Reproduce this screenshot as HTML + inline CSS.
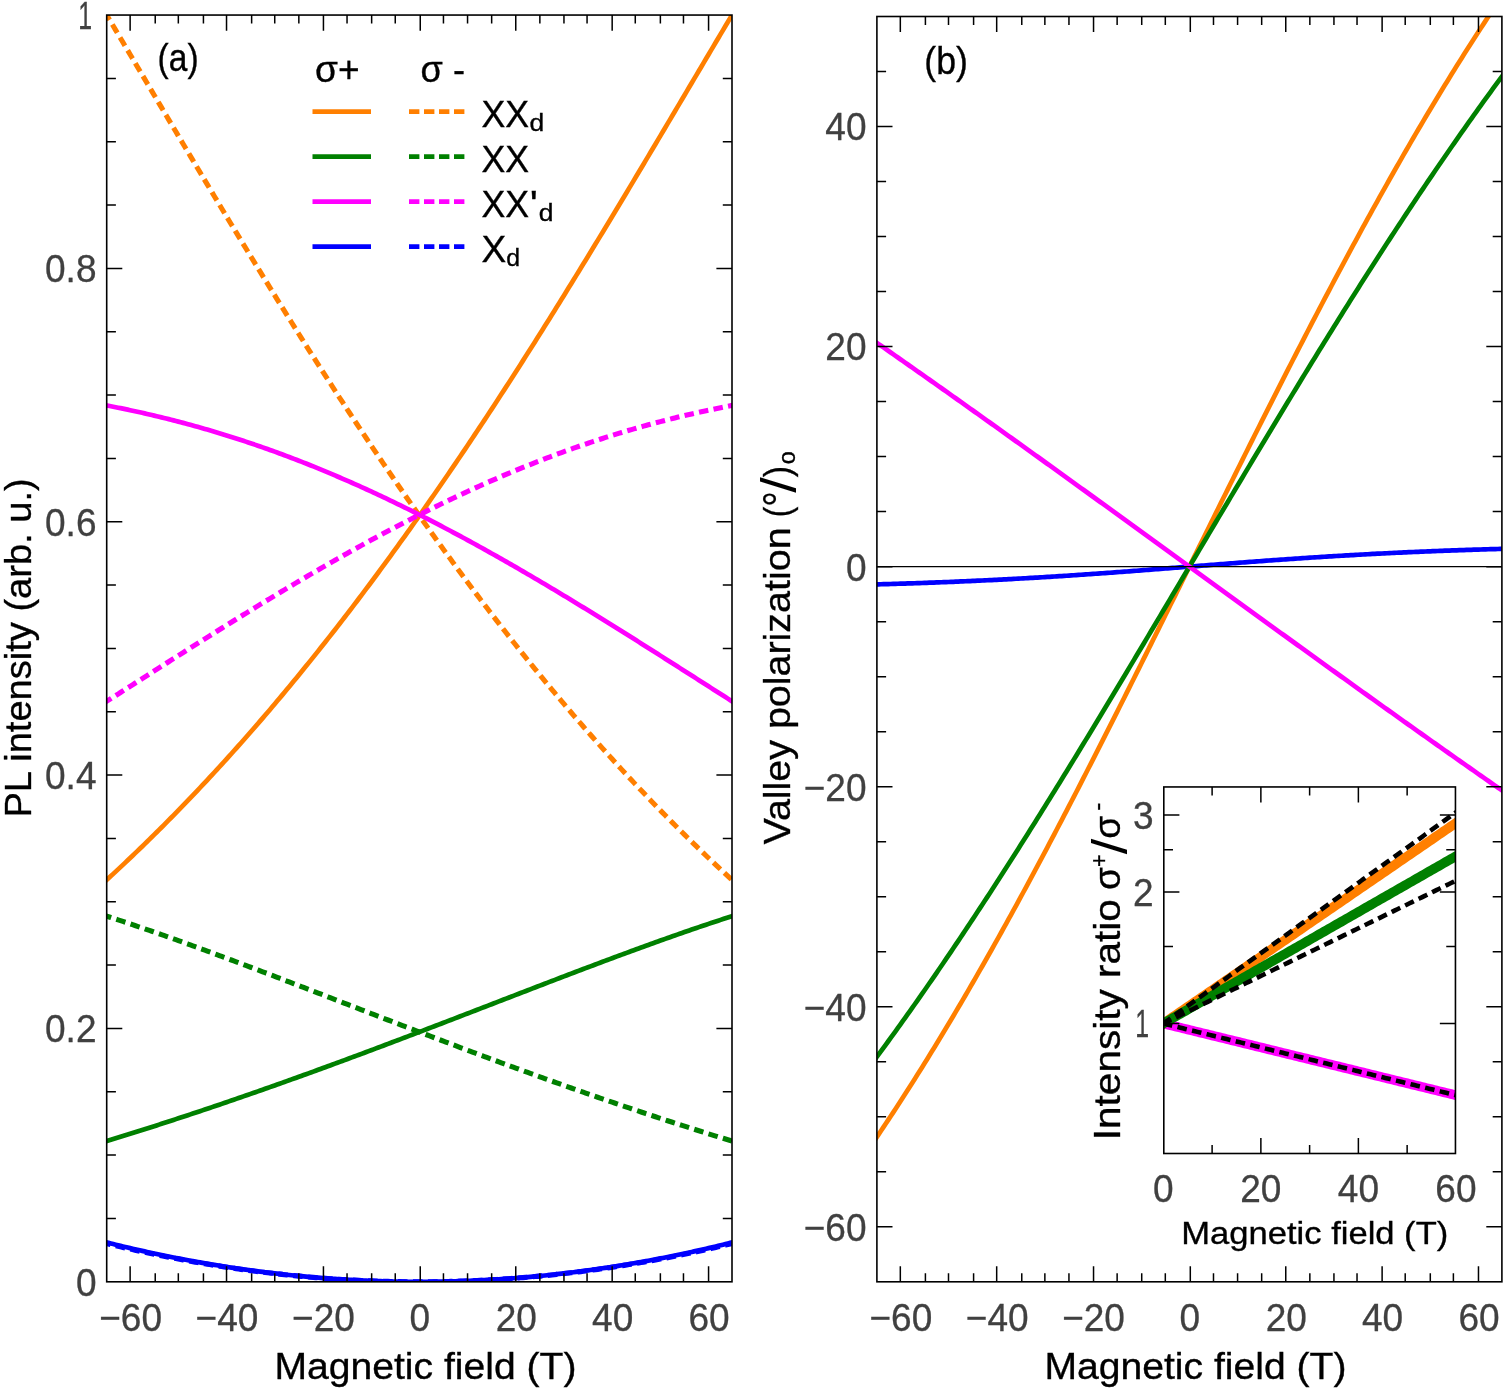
<!DOCTYPE html>
<html lang="en"><head><meta charset="utf-8"><title>PL intensity and valley polarization vs magnetic field</title>
<style>html,body{margin:0;padding:0;background:#fff;overflow:hidden}svg{display:block}</style></head>
<body>
<svg width="1505" height="1388" viewBox="0 0 1505 1388" font-family='"Liberation Sans", sans-serif'>
<rect width="1505" height="1388" fill="#fff"/>
<defs>
<clipPath id="ca"><rect x="106.7" y="15.05" width="625.3" height="1266.75"/></clipPath>
<clipPath id="cb"><rect x="876.9" y="16.5" width="625" height="1265.3"/></clipPath>
<clipPath id="ci"><rect x="1163.8" y="786.95" width="291.65" height="366.55"/></clipPath>
</defs>
<g id="panel-a">
<polyline points="101.2,884.9 103.61,882.71 106.03,880.51 108.44,878.3 110.85,876.08 113.26,873.86 115.67,871.62 118.08,869.38 120.49,867.12 122.9,864.86 125.31,862.59 127.72,860.31 130.13,858.02 132.54,855.73 134.95,853.42 137.36,851.11 139.77,848.78 142.18,846.45 144.59,844.11 147,841.76 149.41,839.4 151.82,837.03 154.23,834.65 156.64,832.27 159.05,829.87 161.46,827.47 163.87,825.06 166.28,822.63 168.69,820.2 171.1,817.76 173.51,815.31 175.92,812.85 178.33,810.38 180.74,807.91 183.15,805.42 185.56,802.92 187.97,800.42 190.38,797.9 192.79,795.38 195.2,792.85 197.61,790.3 200.02,787.75 202.43,785.19 204.84,782.62 207.25,780.04 209.66,777.45 212.07,774.85 214.48,772.25 216.89,769.63 219.3,767 221.71,764.37 224.12,761.72 226.53,759.07 228.94,756.4 231.36,753.73 233.77,751.04 236.18,748.35 238.59,745.65 241,742.94 243.41,740.22 245.82,737.49 248.23,734.75 250.64,732 253.05,729.24 255.46,726.47 257.87,723.69 260.28,720.9 262.69,718.1 265.1,715.29 267.51,712.48 269.92,709.65 272.33,706.81 274.74,703.97 277.15,701.11 279.56,698.25 281.97,695.37 284.38,692.49 286.79,689.59 289.2,686.69 291.61,683.78 294.02,680.85 296.43,677.92 298.84,674.98 301.25,672.03 303.66,669.07 306.07,666.1 308.48,663.11 310.89,660.12 313.3,657.12 315.71,654.11 318.12,651.1 320.53,648.07 322.94,645.03 325.35,641.98 327.76,638.92 330.17,635.85 332.58,632.78 334.99,629.69 337.4,626.59 339.81,623.49 342.22,620.37 344.63,617.25 347.04,614.11 349.45,610.97 351.86,607.81 354.27,604.65 356.69,601.48 359.1,598.29 361.51,595.1 363.92,591.9 366.33,588.69 368.74,585.47 371.15,582.24 373.56,579 375.97,575.75 378.38,572.49 380.79,569.22 383.2,565.95 385.61,562.66 388.02,559.36 390.43,556.06 392.84,552.74 395.25,549.42 397.66,546.09 400.07,542.74 402.48,539.39 404.89,536.03 407.3,532.66 409.71,529.28 412.12,525.89 414.53,522.49 416.94,519.09 419.35,515.67 421.76,512.24 424.17,508.81 426.58,505.37 428.99,501.91 431.4,498.45 433.81,494.98 436.22,491.5 438.63,488.02 441.04,484.52 443.45,481.01 445.86,477.5 448.27,473.97 450.68,470.44 453.09,466.9 455.5,463.35 457.91,459.79 460.32,456.23 462.73,452.65 465.14,449.07 467.55,445.48 469.96,441.88 472.37,438.27 474.78,434.65 477.19,431.02 479.6,427.39 482.01,423.75 484.43,420.1 486.84,416.44 489.25,412.77 491.66,409.1 494.07,405.42 496.48,401.73 498.89,398.03 501.3,394.32 503.71,390.61 506.12,386.89 508.53,383.16 510.94,379.42 513.35,375.68 515.76,371.92 518.17,368.16 520.58,364.4 522.99,360.62 525.4,356.84 527.81,353.05 530.22,349.26 532.63,345.46 535.04,341.65 537.45,337.83 539.86,334.01 542.27,330.18 544.68,326.34 547.09,322.49 549.5,318.64 551.91,314.79 554.32,310.92 556.73,307.05 559.14,303.18 561.55,299.3 563.96,295.41 566.37,291.51 568.78,287.61 571.19,283.71 573.6,279.79 576.01,275.87 578.42,271.95 580.83,268.02 583.24,264.09 585.65,260.15 588.06,256.2 590.47,252.25 592.88,248.29 595.29,244.33 597.7,240.37 600.11,236.4 602.52,232.42 604.93,228.44 607.34,224.46 609.76,220.47 612.17,216.47 614.58,212.48 616.99,208.47 619.4,204.47 621.81,200.46 624.22,196.44 626.63,192.43 629.04,188.4 631.45,184.38 633.86,180.35 636.27,176.32 638.68,172.29 641.09,168.25 643.5,164.21 645.91,160.16 648.32,156.12 650.73,152.07 653.14,148.02 655.55,143.96 657.96,139.91 660.37,135.85 662.78,131.79 665.19,127.73 667.6,123.67 670.01,119.6 672.42,115.54 674.83,111.47 677.24,107.4 679.65,103.33 682.06,99.26 684.47,95.19 686.88,91.12 689.29,87.05 691.7,82.98 694.11,78.91 696.52,74.83 698.93,70.76 701.34,66.69 703.75,62.62 706.16,58.55 708.57,54.48 710.98,50.41 713.39,46.35 715.8,42.28 718.21,38.22 720.62,34.15 723.03,30.09 725.44,26.04 727.85,21.98 730.26,17.93 732.67,13.87 735.09,9.83 737.5,5.78" fill="none" stroke="#ff7f00" stroke-width="4.7" clip-path="url(#ca)"/>
<polyline points="101.2,5.78 103.61,9.83 106.03,13.87 108.44,17.93 110.85,21.98 113.26,26.04 115.67,30.09 118.08,34.15 120.49,38.22 122.9,42.28 125.31,46.35 127.72,50.41 130.13,54.48 132.54,58.55 134.95,62.62 137.36,66.69 139.77,70.76 142.18,74.83 144.59,78.91 147,82.98 149.41,87.05 151.82,91.12 154.23,95.19 156.64,99.26 159.05,103.33 161.46,107.4 163.87,111.47 166.28,115.54 168.69,119.6 171.1,123.67 173.51,127.73 175.92,131.79 178.33,135.85 180.74,139.91 183.15,143.96 185.56,148.02 187.97,152.07 190.38,156.12 192.79,160.16 195.2,164.21 197.61,168.25 200.02,172.29 202.43,176.32 204.84,180.35 207.25,184.38 209.66,188.4 212.07,192.43 214.48,196.44 216.89,200.46 219.3,204.47 221.71,208.47 224.12,212.48 226.53,216.47 228.94,220.47 231.36,224.46 233.77,228.44 236.18,232.42 238.59,236.4 241,240.37 243.41,244.33 245.82,248.29 248.23,252.25 250.64,256.2 253.05,260.15 255.46,264.09 257.87,268.02 260.28,271.95 262.69,275.87 265.1,279.79 267.51,283.71 269.92,287.61 272.33,291.51 274.74,295.41 277.15,299.3 279.56,303.18 281.97,307.05 284.38,310.92 286.79,314.79 289.2,318.64 291.61,322.49 294.02,326.34 296.43,330.18 298.84,334.01 301.25,337.83 303.66,341.65 306.07,345.46 308.48,349.26 310.89,353.05 313.3,356.84 315.71,360.62 318.12,364.4 320.53,368.16 322.94,371.92 325.35,375.68 327.76,379.42 330.17,383.16 332.58,386.89 334.99,390.61 337.4,394.32 339.81,398.03 342.22,401.73 344.63,405.42 347.04,409.1 349.45,412.77 351.86,416.44 354.27,420.1 356.69,423.75 359.1,427.39 361.51,431.02 363.92,434.65 366.33,438.27 368.74,441.88 371.15,445.48 373.56,449.07 375.97,452.65 378.38,456.23 380.79,459.79 383.2,463.35 385.61,466.9 388.02,470.44 390.43,473.97 392.84,477.5 395.25,481.01 397.66,484.52 400.07,488.02 402.48,491.5 404.89,494.98 407.3,498.45 409.71,501.91 412.12,505.37 414.53,508.81 416.94,512.24 419.35,515.67 421.76,519.09 424.17,522.49 426.58,525.89 428.99,529.28 431.4,532.66 433.81,536.03 436.22,539.39 438.63,542.74 441.04,546.09 443.45,549.42 445.86,552.74 448.27,556.06 450.68,559.36 453.09,562.66 455.5,565.95 457.91,569.22 460.32,572.49 462.73,575.75 465.14,579 467.55,582.24 469.96,585.47 472.37,588.69 474.78,591.9 477.19,595.1 479.6,598.29 482.01,601.48 484.43,604.65 486.84,607.81 489.25,610.97 491.66,614.11 494.07,617.25 496.48,620.37 498.89,623.49 501.3,626.59 503.71,629.69 506.12,632.78 508.53,635.85 510.94,638.92 513.35,641.98 515.76,645.03 518.17,648.07 520.58,651.1 522.99,654.11 525.4,657.12 527.81,660.12 530.22,663.11 532.63,666.1 535.04,669.07 537.45,672.03 539.86,674.98 542.27,677.92 544.68,680.85 547.09,683.78 549.5,686.69 551.91,689.59 554.32,692.49 556.73,695.37 559.14,698.25 561.55,701.11 563.96,703.97 566.37,706.81 568.78,709.65 571.19,712.48 573.6,715.29 576.01,718.1 578.42,720.9 580.83,723.69 583.24,726.47 585.65,729.24 588.06,732 590.47,734.75 592.88,737.49 595.29,740.22 597.7,742.94 600.11,745.65 602.52,748.35 604.93,751.04 607.34,753.73 609.76,756.4 612.17,759.07 614.58,761.72 616.99,764.37 619.4,767 621.81,769.63 624.22,772.25 626.63,774.85 629.04,777.45 631.45,780.04 633.86,782.62 636.27,785.19 638.68,787.75 641.09,790.3 643.5,792.85 645.91,795.38 648.32,797.9 650.73,800.42 653.14,802.92 655.55,805.42 657.96,807.91 660.37,810.38 662.78,812.85 665.19,815.31 667.6,817.76 670.01,820.2 672.42,822.63 674.83,825.06 677.24,827.47 679.65,829.87 682.06,832.27 684.47,834.65 686.88,837.03 689.29,839.4 691.7,841.76 694.11,844.11 696.52,846.45 698.93,848.78 701.34,851.11 703.75,853.42 706.16,855.73 708.57,858.02 710.98,860.31 713.39,862.59 715.8,864.86 718.21,867.12 720.62,869.38 723.03,871.62 725.44,873.86 727.85,876.08 730.26,878.3 732.67,880.51 735.09,882.71 737.5,884.9" fill="none" stroke="#ff7f00" stroke-width="5.1" stroke-dasharray="9.6 5.4" stroke-dashoffset="8.18" clip-path="url(#ca)"/>
<polyline points="101.2,1142.74 103.61,1142 106.03,1141.27 108.44,1140.53 110.85,1139.79 113.26,1139.05 115.67,1138.3 118.08,1137.56 120.49,1136.81 122.9,1136.06 125.31,1135.31 127.72,1134.56 130.13,1133.81 132.54,1133.05 134.95,1132.29 137.36,1131.53 139.77,1130.77 142.18,1130.01 144.59,1129.24 147,1128.48 149.41,1127.71 151.82,1126.94 154.23,1126.17 156.64,1125.39 159.05,1124.62 161.46,1123.84 163.87,1123.06 166.28,1122.28 168.69,1121.5 171.1,1120.71 173.51,1119.93 175.92,1119.14 178.33,1118.35 180.74,1117.56 183.15,1116.76 185.56,1115.97 187.97,1115.17 190.38,1114.38 192.79,1113.58 195.2,1112.77 197.61,1111.97 200.02,1111.17 202.43,1110.36 204.84,1109.55 207.25,1108.74 209.66,1107.93 212.07,1107.12 214.48,1106.3 216.89,1105.49 219.3,1104.67 221.71,1103.85 224.12,1103.03 226.53,1102.21 228.94,1101.38 231.36,1100.56 233.77,1099.73 236.18,1098.9 238.59,1098.07 241,1097.24 243.41,1096.4 245.82,1095.57 248.23,1094.73 250.64,1093.89 253.05,1093.05 255.46,1092.21 257.87,1091.37 260.28,1090.52 262.69,1089.68 265.1,1088.83 267.51,1087.98 269.92,1087.13 272.33,1086.28 274.74,1085.43 277.15,1084.57 279.56,1083.72 281.97,1082.86 284.38,1082 286.79,1081.14 289.2,1080.28 291.61,1079.41 294.02,1078.55 296.43,1077.68 298.84,1076.82 301.25,1075.95 303.66,1075.08 306.07,1074.21 308.48,1073.34 310.89,1072.46 313.3,1071.59 315.71,1070.71 318.12,1069.83 320.53,1068.95 322.94,1068.07 325.35,1067.19 327.76,1066.31 330.17,1065.43 332.58,1064.54 334.99,1063.65 337.4,1062.77 339.81,1061.88 342.22,1060.99 344.63,1060.1 347.04,1059.21 349.45,1058.31 351.86,1057.42 354.27,1056.52 356.69,1055.63 359.1,1054.73 361.51,1053.83 363.92,1052.93 366.33,1052.03 368.74,1051.13 371.15,1050.23 373.56,1049.33 375.97,1048.42 378.38,1047.52 380.79,1046.61 383.2,1045.7 385.61,1044.79 388.02,1043.89 390.43,1042.98 392.84,1042.07 395.25,1041.15 397.66,1040.24 400.07,1039.33 402.48,1038.41 404.89,1037.5 407.3,1036.58 409.71,1035.67 412.12,1034.75 414.53,1033.83 416.94,1032.92 419.35,1032 421.76,1031.08 424.17,1030.16 426.58,1029.24 428.99,1028.31 431.4,1027.39 433.81,1026.47 436.22,1025.55 438.63,1024.62 441.04,1023.7 443.45,1022.77 445.86,1021.85 448.27,1020.92 450.68,1020 453.09,1019.07 455.5,1018.14 457.91,1017.22 460.32,1016.29 462.73,1015.36 465.14,1014.43 467.55,1013.51 469.96,1012.58 472.37,1011.65 474.78,1010.72 477.19,1009.79 479.6,1008.86 482.01,1007.93 484.43,1007 486.84,1006.07 489.25,1005.14 491.66,1004.21 494.07,1003.28 496.48,1002.35 498.89,1001.42 501.3,1000.49 503.71,999.56 506.12,998.63 508.53,997.7 510.94,996.77 513.35,995.84 515.76,994.91 518.17,993.98 520.58,993.05 522.99,992.12 525.4,991.2 527.81,990.27 530.22,989.34 532.63,988.41 535.04,987.48 537.45,986.56 539.86,985.63 542.27,984.71 544.68,983.78 547.09,982.86 549.5,981.93 551.91,981.01 554.32,980.09 556.73,979.16 559.14,978.24 561.55,977.32 563.96,976.4 566.37,975.48 568.78,974.56 571.19,973.65 573.6,972.73 576.01,971.81 578.42,970.9 580.83,969.98 583.24,969.07 585.65,968.16 588.06,967.25 590.47,966.34 592.88,965.43 595.29,964.52 597.7,963.62 600.11,962.71 602.52,961.81 604.93,960.9 607.34,960 609.76,959.1 612.17,958.2 614.58,957.31 616.99,956.41 619.4,955.52 621.81,954.62 624.22,953.73 626.63,952.84 629.04,951.96 631.45,951.07 633.86,950.19 636.27,949.3 638.68,948.42 641.09,947.54 643.5,946.67 645.91,945.79 648.32,944.92 650.73,944.05 653.14,943.18 655.55,942.31 657.96,941.45 660.37,940.58 662.78,939.72 665.19,938.87 667.6,938.01 670.01,937.16 672.42,936.31 674.83,935.46 677.24,934.61 679.65,933.77 682.06,932.93 684.47,932.09 686.88,931.25 689.29,930.42 691.7,929.59 694.11,928.76 696.52,927.94 698.93,927.12 701.34,926.3 703.75,925.48 706.16,924.67 708.57,923.86 710.98,923.05 713.39,922.25 715.8,921.45 718.21,920.65 720.62,919.86 723.03,919.07 725.44,918.28 727.85,917.5 730.26,916.72 732.67,915.94 735.09,915.17 737.5,914.4" fill="none" stroke="#008000" stroke-width="4.7" clip-path="url(#ca)"/>
<polyline points="101.2,914.4 103.61,915.17 106.03,915.94 108.44,916.72 110.85,917.5 113.26,918.28 115.67,919.07 118.08,919.86 120.49,920.65 122.9,921.45 125.31,922.25 127.72,923.05 130.13,923.86 132.54,924.67 134.95,925.48 137.36,926.3 139.77,927.12 142.18,927.94 144.59,928.76 147,929.59 149.41,930.42 151.82,931.25 154.23,932.09 156.64,932.93 159.05,933.77 161.46,934.61 163.87,935.46 166.28,936.31 168.69,937.16 171.1,938.01 173.51,938.87 175.92,939.72 178.33,940.58 180.74,941.45 183.15,942.31 185.56,943.18 187.97,944.05 190.38,944.92 192.79,945.79 195.2,946.67 197.61,947.54 200.02,948.42 202.43,949.3 204.84,950.19 207.25,951.07 209.66,951.96 212.07,952.84 214.48,953.73 216.89,954.62 219.3,955.52 221.71,956.41 224.12,957.31 226.53,958.2 228.94,959.1 231.36,960 233.77,960.9 236.18,961.81 238.59,962.71 241,963.62 243.41,964.52 245.82,965.43 248.23,966.34 250.64,967.25 253.05,968.16 255.46,969.07 257.87,969.98 260.28,970.9 262.69,971.81 265.1,972.73 267.51,973.65 269.92,974.56 272.33,975.48 274.74,976.4 277.15,977.32 279.56,978.24 281.97,979.16 284.38,980.09 286.79,981.01 289.2,981.93 291.61,982.86 294.02,983.78 296.43,984.71 298.84,985.63 301.25,986.56 303.66,987.48 306.07,988.41 308.48,989.34 310.89,990.27 313.3,991.2 315.71,992.12 318.12,993.05 320.53,993.98 322.94,994.91 325.35,995.84 327.76,996.77 330.17,997.7 332.58,998.63 334.99,999.56 337.4,1000.49 339.81,1001.42 342.22,1002.35 344.63,1003.28 347.04,1004.21 349.45,1005.14 351.86,1006.07 354.27,1007 356.69,1007.93 359.1,1008.86 361.51,1009.79 363.92,1010.72 366.33,1011.65 368.74,1012.58 371.15,1013.51 373.56,1014.43 375.97,1015.36 378.38,1016.29 380.79,1017.22 383.2,1018.14 385.61,1019.07 388.02,1020 390.43,1020.92 392.84,1021.85 395.25,1022.77 397.66,1023.7 400.07,1024.62 402.48,1025.55 404.89,1026.47 407.3,1027.39 409.71,1028.31 412.12,1029.24 414.53,1030.16 416.94,1031.08 419.35,1032 421.76,1032.92 424.17,1033.83 426.58,1034.75 428.99,1035.67 431.4,1036.58 433.81,1037.5 436.22,1038.41 438.63,1039.33 441.04,1040.24 443.45,1041.15 445.86,1042.07 448.27,1042.98 450.68,1043.89 453.09,1044.79 455.5,1045.7 457.91,1046.61 460.32,1047.52 462.73,1048.42 465.14,1049.33 467.55,1050.23 469.96,1051.13 472.37,1052.03 474.78,1052.93 477.19,1053.83 479.6,1054.73 482.01,1055.63 484.43,1056.52 486.84,1057.42 489.25,1058.31 491.66,1059.21 494.07,1060.1 496.48,1060.99 498.89,1061.88 501.3,1062.77 503.71,1063.65 506.12,1064.54 508.53,1065.43 510.94,1066.31 513.35,1067.19 515.76,1068.07 518.17,1068.95 520.58,1069.83 522.99,1070.71 525.4,1071.59 527.81,1072.46 530.22,1073.34 532.63,1074.21 535.04,1075.08 537.45,1075.95 539.86,1076.82 542.27,1077.68 544.68,1078.55 547.09,1079.41 549.5,1080.28 551.91,1081.14 554.32,1082 556.73,1082.86 559.14,1083.72 561.55,1084.57 563.96,1085.43 566.37,1086.28 568.78,1087.13 571.19,1087.98 573.6,1088.83 576.01,1089.68 578.42,1090.52 580.83,1091.37 583.24,1092.21 585.65,1093.05 588.06,1093.89 590.47,1094.73 592.88,1095.57 595.29,1096.4 597.7,1097.24 600.11,1098.07 602.52,1098.9 604.93,1099.73 607.34,1100.56 609.76,1101.38 612.17,1102.21 614.58,1103.03 616.99,1103.85 619.4,1104.67 621.81,1105.49 624.22,1106.3 626.63,1107.12 629.04,1107.93 631.45,1108.74 633.86,1109.55 636.27,1110.36 638.68,1111.17 641.09,1111.97 643.5,1112.77 645.91,1113.58 648.32,1114.38 650.73,1115.17 653.14,1115.97 655.55,1116.76 657.96,1117.56 660.37,1118.35 662.78,1119.14 665.19,1119.93 667.6,1120.71 670.01,1121.5 672.42,1122.28 674.83,1123.06 677.24,1123.84 679.65,1124.62 682.06,1125.39 684.47,1126.17 686.88,1126.94 689.29,1127.71 691.7,1128.48 694.11,1129.24 696.52,1130.01 698.93,1130.77 701.34,1131.53 703.75,1132.29 706.16,1133.05 708.57,1133.81 710.98,1134.56 713.39,1135.31 715.8,1136.06 718.21,1136.81 720.62,1137.56 723.03,1138.3 725.44,1139.05 727.85,1139.79 730.26,1140.53 732.67,1141.27 735.09,1142 737.5,1142.74" fill="none" stroke="#008000" stroke-width="5.1" stroke-dasharray="9.6 5.4" stroke-dashoffset="14.13" clip-path="url(#ca)"/>
<polyline points="101.2,404.39 103.61,404.85 106.03,405.3 108.44,405.77 110.85,406.24 113.26,406.71 115.67,407.19 118.08,407.68 120.49,408.17 122.9,408.67 125.31,409.17 127.72,409.67 130.13,410.19 132.54,410.7 134.95,411.23 137.36,411.75 139.77,412.29 142.18,412.83 144.59,413.37 147,413.92 149.41,414.48 151.82,415.04 154.23,415.61 156.64,416.18 159.05,416.76 161.46,417.35 163.87,417.94 166.28,418.54 168.69,419.14 171.1,419.75 173.51,420.36 175.92,420.98 178.33,421.61 180.74,422.24 183.15,422.88 185.56,423.52 187.97,424.17 190.38,424.83 192.79,425.49 195.2,426.16 197.61,426.84 200.02,427.52 202.43,428.2 204.84,428.9 207.25,429.59 209.66,430.3 212.07,431.01 214.48,431.73 216.89,432.45 219.3,433.18 221.71,433.92 224.12,434.66 226.53,435.4 228.94,436.16 231.36,436.92 233.77,437.69 236.18,438.46 238.59,439.24 241,440.02 243.41,440.81 245.82,441.61 248.23,442.41 250.64,443.22 253.05,444.04 255.46,444.86 257.87,445.69 260.28,446.53 262.69,447.37 265.1,448.21 267.51,449.07 269.92,449.93 272.33,450.79 274.74,451.66 277.15,452.54 279.56,453.43 281.97,454.32 284.38,455.21 286.79,456.11 289.2,457.02 291.61,457.94 294.02,458.86 296.43,459.79 298.84,460.72 301.25,461.66 303.66,462.6 306.07,463.55 308.48,464.51 310.89,465.47 313.3,466.44 315.71,467.42 318.12,468.4 320.53,469.39 322.94,470.38 325.35,471.38 327.76,472.39 330.17,473.4 332.58,474.41 334.99,475.44 337.4,476.47 339.81,477.5 342.22,478.54 344.63,479.59 347.04,480.64 349.45,481.7 351.86,482.76 354.27,483.83 356.69,484.9 359.1,485.98 361.51,487.07 363.92,488.16 366.33,489.26 368.74,490.36 371.15,491.47 373.56,492.59 375.97,493.71 378.38,494.83 380.79,495.96 383.2,497.1 385.61,498.24 388.02,499.39 390.43,500.54 392.84,501.7 395.25,502.86 397.66,504.03 400.07,505.21 402.48,506.38 404.89,507.57 407.3,508.76 409.71,509.95 412.12,511.15 414.53,512.36 416.94,513.57 419.35,514.78 421.76,516 424.17,517.23 426.58,518.46 428.99,519.69 431.4,520.93 433.81,522.18 436.22,523.43 438.63,524.68 441.04,525.94 443.45,527.21 445.86,528.47 448.27,529.75 450.68,531.03 453.09,532.31 455.5,533.6 457.91,534.89 460.32,536.18 462.73,537.48 465.14,538.79 467.55,540.1 469.96,541.41 472.37,542.73 474.78,544.05 477.19,545.38 479.6,546.71 482.01,548.05 484.43,549.38 486.84,550.73 489.25,552.08 491.66,553.43 494.07,554.78 496.48,556.14 498.89,557.51 501.3,558.87 503.71,560.24 506.12,561.62 508.53,563 510.94,564.38 513.35,565.77 515.76,567.16 518.17,568.55 520.58,569.95 522.99,571.35 525.4,572.75 527.81,574.16 530.22,575.57 532.63,576.98 535.04,578.4 537.45,579.82 539.86,581.25 542.27,582.67 544.68,584.1 547.09,585.54 549.5,586.97 551.91,588.41 554.32,589.86 556.73,591.3 559.14,592.75 561.55,594.2 563.96,595.65 566.37,597.11 568.78,598.57 571.19,600.03 573.6,601.5 576.01,602.97 578.42,604.44 580.83,605.91 583.24,607.38 585.65,608.86 588.06,610.34 590.47,611.82 592.88,613.31 595.29,614.79 597.7,616.28 600.11,617.77 602.52,619.27 604.93,620.76 607.34,622.26 609.76,623.76 612.17,625.26 614.58,626.76 616.99,628.27 619.4,629.77 621.81,631.28 624.22,632.79 626.63,634.3 629.04,635.82 631.45,637.33 633.86,638.85 636.27,640.36 638.68,641.88 641.09,643.4 643.5,644.92 645.91,646.45 648.32,647.97 650.73,649.5 653.14,651.02 655.55,652.55 657.96,654.08 660.37,655.61 662.78,657.14 665.19,658.67 667.6,660.2 670.01,661.74 672.42,663.27 674.83,664.8 677.24,666.34 679.65,667.88 682.06,669.41 684.47,670.95 686.88,672.49 689.29,674.02 691.7,675.56 694.11,677.1 696.52,678.64 698.93,680.18 701.34,681.72 703.75,683.25 706.16,684.79 708.57,686.33 710.98,687.87 713.39,689.41 715.8,690.95 718.21,692.49 720.62,694.03 723.03,695.56 725.44,697.1 727.85,698.64 730.26,700.17 732.67,701.71 735.09,703.25 737.5,704.78" fill="none" stroke="#ff00ff" stroke-width="4.7" clip-path="url(#ca)"/>
<polyline points="101.2,704.78 103.61,703.25 106.03,701.71 108.44,700.17 110.85,698.64 113.26,697.1 115.67,695.56 118.08,694.03 120.49,692.49 122.9,690.95 125.31,689.41 127.72,687.87 130.13,686.33 132.54,684.79 134.95,683.25 137.36,681.72 139.77,680.18 142.18,678.64 144.59,677.1 147,675.56 149.41,674.02 151.82,672.49 154.23,670.95 156.64,669.41 159.05,667.88 161.46,666.34 163.87,664.8 166.28,663.27 168.69,661.74 171.1,660.2 173.51,658.67 175.92,657.14 178.33,655.61 180.74,654.08 183.15,652.55 185.56,651.02 187.97,649.5 190.38,647.97 192.79,646.45 195.2,644.92 197.61,643.4 200.02,641.88 202.43,640.36 204.84,638.85 207.25,637.33 209.66,635.82 212.07,634.3 214.48,632.79 216.89,631.28 219.3,629.77 221.71,628.27 224.12,626.76 226.53,625.26 228.94,623.76 231.36,622.26 233.77,620.76 236.18,619.27 238.59,617.77 241,616.28 243.41,614.79 245.82,613.31 248.23,611.82 250.64,610.34 253.05,608.86 255.46,607.38 257.87,605.91 260.28,604.44 262.69,602.97 265.1,601.5 267.51,600.03 269.92,598.57 272.33,597.11 274.74,595.65 277.15,594.2 279.56,592.75 281.97,591.3 284.38,589.86 286.79,588.41 289.2,586.97 291.61,585.54 294.02,584.1 296.43,582.67 298.84,581.25 301.25,579.82 303.66,578.4 306.07,576.98 308.48,575.57 310.89,574.16 313.3,572.75 315.71,571.35 318.12,569.95 320.53,568.55 322.94,567.16 325.35,565.77 327.76,564.38 330.17,563 332.58,561.62 334.99,560.24 337.4,558.87 339.81,557.51 342.22,556.14 344.63,554.78 347.04,553.43 349.45,552.08 351.86,550.73 354.27,549.38 356.69,548.05 359.1,546.71 361.51,545.38 363.92,544.05 366.33,542.73 368.74,541.41 371.15,540.1 373.56,538.79 375.97,537.48 378.38,536.18 380.79,534.89 383.2,533.6 385.61,532.31 388.02,531.03 390.43,529.75 392.84,528.47 395.25,527.21 397.66,525.94 400.07,524.68 402.48,523.43 404.89,522.18 407.3,520.93 409.71,519.69 412.12,518.46 414.53,517.23 416.94,516 419.35,514.78 421.76,513.57 424.17,512.36 426.58,511.15 428.99,509.95 431.4,508.76 433.81,507.57 436.22,506.38 438.63,505.21 441.04,504.03 443.45,502.86 445.86,501.7 448.27,500.54 450.68,499.39 453.09,498.24 455.5,497.1 457.91,495.96 460.32,494.83 462.73,493.71 465.14,492.59 467.55,491.47 469.96,490.36 472.37,489.26 474.78,488.16 477.19,487.07 479.6,485.98 482.01,484.9 484.43,483.83 486.84,482.76 489.25,481.7 491.66,480.64 494.07,479.59 496.48,478.54 498.89,477.5 501.3,476.47 503.71,475.44 506.12,474.41 508.53,473.4 510.94,472.39 513.35,471.38 515.76,470.38 518.17,469.39 520.58,468.4 522.99,467.42 525.4,466.44 527.81,465.47 530.22,464.51 532.63,463.55 535.04,462.6 537.45,461.66 539.86,460.72 542.27,459.79 544.68,458.86 547.09,457.94 549.5,457.02 551.91,456.11 554.32,455.21 556.73,454.32 559.14,453.43 561.55,452.54 563.96,451.66 566.37,450.79 568.78,449.93 571.19,449.07 573.6,448.21 576.01,447.37 578.42,446.53 580.83,445.69 583.24,444.86 585.65,444.04 588.06,443.22 590.47,442.41 592.88,441.61 595.29,440.81 597.7,440.02 600.11,439.24 602.52,438.46 604.93,437.69 607.34,436.92 609.76,436.16 612.17,435.4 614.58,434.66 616.99,433.92 619.4,433.18 621.81,432.45 624.22,431.73 626.63,431.01 629.04,430.3 631.45,429.59 633.86,428.9 636.27,428.2 638.68,427.52 641.09,426.84 643.5,426.16 645.91,425.49 648.32,424.83 650.73,424.17 653.14,423.52 655.55,422.88 657.96,422.24 660.37,421.61 662.78,420.98 665.19,420.36 667.6,419.75 670.01,419.14 672.42,418.54 674.83,417.94 677.24,417.35 679.65,416.76 682.06,416.18 684.47,415.61 686.88,415.04 689.29,414.48 691.7,413.92 694.11,413.37 696.52,412.83 698.93,412.29 701.34,411.75 703.75,411.23 706.16,410.7 708.57,410.19 710.98,409.67 713.39,409.17 715.8,408.67 718.21,408.17 720.62,407.68 723.03,407.19 725.44,406.71 727.85,406.24 730.26,405.77 732.67,405.3 735.09,404.85 737.5,404.39" fill="none" stroke="#ff00ff" stroke-width="5.1" stroke-dasharray="9.5 5.32" stroke-dashoffset="12.33" clip-path="url(#ca)"/>
<polyline points="101.2,1241.05 103.61,1241.67 106.03,1242.28 108.44,1242.88 110.85,1243.48 113.26,1244.08 115.67,1244.67 118.08,1245.26 120.49,1245.84 122.9,1246.42 125.31,1246.99 127.72,1247.56 130.13,1248.12 132.54,1248.68 134.95,1249.24 137.36,1249.79 139.77,1250.33 142.18,1250.87 144.59,1251.41 147,1251.94 149.41,1252.46 151.82,1252.99 154.23,1253.5 156.64,1254.01 159.05,1254.52 161.46,1255.03 163.87,1255.52 166.28,1256.02 168.69,1256.51 171.1,1256.99 173.51,1257.47 175.92,1257.94 178.33,1258.41 180.74,1258.88 183.15,1259.34 185.56,1259.8 187.97,1260.25 190.38,1260.69 192.79,1261.14 195.2,1261.57 197.61,1262.01 200.02,1262.43 202.43,1262.86 204.84,1263.28 207.25,1263.69 209.66,1264.1 212.07,1264.5 214.48,1264.9 216.89,1265.3 219.3,1265.69 221.71,1266.08 224.12,1266.46 226.53,1266.83 228.94,1267.2 231.36,1267.57 233.77,1267.93 236.18,1268.29 238.59,1268.65 241,1268.99 243.41,1269.34 245.82,1269.68 248.23,1270.01 250.64,1270.34 253.05,1270.67 255.46,1270.99 257.87,1271.3 260.28,1271.61 262.69,1271.92 265.1,1272.22 267.51,1272.52 269.92,1272.81 272.33,1273.1 274.74,1273.38 277.15,1273.66 279.56,1273.93 281.97,1274.2 284.38,1274.47 286.79,1274.73 289.2,1274.98 291.61,1275.23 294.02,1275.48 296.43,1275.72 298.84,1275.95 301.25,1276.18 303.66,1276.41 306.07,1276.63 308.48,1276.85 310.89,1277.06 313.3,1277.27 315.71,1277.48 318.12,1277.67 320.53,1277.87 322.94,1278.06 325.35,1278.24 327.76,1278.42 330.17,1278.6 332.58,1278.77 334.99,1278.94 337.4,1279.1 339.81,1279.25 342.22,1279.41 344.63,1279.55 347.04,1279.7 349.45,1279.83 351.86,1279.97 354.27,1280.1 356.69,1280.22 359.1,1280.34 361.51,1280.45 363.92,1280.56 366.33,1280.67 368.74,1280.77 371.15,1280.86 373.56,1280.96 375.97,1281.04 378.38,1281.12 380.79,1281.2 383.2,1281.27 385.61,1281.34 388.02,1281.4 390.43,1281.46 392.84,1281.52 395.25,1281.57 397.66,1281.61 400.07,1281.65 402.48,1281.69 404.89,1281.72 407.3,1281.74 409.71,1281.76 412.12,1281.78 414.53,1281.79 416.94,1281.8 419.35,1281.8 421.76,1281.8 424.17,1281.79 426.58,1281.78 428.99,1281.76 431.4,1281.74 433.81,1281.72 436.22,1281.69 438.63,1281.65 441.04,1281.61 443.45,1281.57 445.86,1281.52 448.27,1281.46 450.68,1281.4 453.09,1281.34 455.5,1281.27 457.91,1281.2 460.32,1281.12 462.73,1281.04 465.14,1280.96 467.55,1280.86 469.96,1280.77 472.37,1280.67 474.78,1280.56 477.19,1280.45 479.6,1280.34 482.01,1280.22 484.43,1280.1 486.84,1279.97 489.25,1279.83 491.66,1279.7 494.07,1279.55 496.48,1279.41 498.89,1279.25 501.3,1279.1 503.71,1278.94 506.12,1278.77 508.53,1278.6 510.94,1278.42 513.35,1278.24 515.76,1278.06 518.17,1277.87 520.58,1277.67 522.99,1277.48 525.4,1277.27 527.81,1277.06 530.22,1276.85 532.63,1276.63 535.04,1276.41 537.45,1276.18 539.86,1275.95 542.27,1275.72 544.68,1275.48 547.09,1275.23 549.5,1274.98 551.91,1274.73 554.32,1274.47 556.73,1274.2 559.14,1273.93 561.55,1273.66 563.96,1273.38 566.37,1273.1 568.78,1272.81 571.19,1272.52 573.6,1272.22 576.01,1271.92 578.42,1271.61 580.83,1271.3 583.24,1270.99 585.65,1270.67 588.06,1270.34 590.47,1270.01 592.88,1269.68 595.29,1269.34 597.7,1268.99 600.11,1268.65 602.52,1268.29 604.93,1267.93 607.34,1267.57 609.76,1267.2 612.17,1266.83 614.58,1266.46 616.99,1266.08 619.4,1265.69 621.81,1265.3 624.22,1264.9 626.63,1264.5 629.04,1264.1 631.45,1263.69 633.86,1263.28 636.27,1262.86 638.68,1262.43 641.09,1262.01 643.5,1261.57 645.91,1261.14 648.32,1260.69 650.73,1260.25 653.14,1259.8 655.55,1259.34 657.96,1258.88 660.37,1258.41 662.78,1257.94 665.19,1257.47 667.6,1256.99 670.01,1256.51 672.42,1256.02 674.83,1255.52 677.24,1255.03 679.65,1254.52 682.06,1254.01 684.47,1253.5 686.88,1252.99 689.29,1252.46 691.7,1251.94 694.11,1251.41 696.52,1250.87 698.93,1250.33 701.34,1249.79 703.75,1249.24 706.16,1248.68 708.57,1248.12 710.98,1247.56 713.39,1246.99 715.8,1246.42 718.21,1245.84 720.62,1245.26 723.03,1244.67 725.44,1244.08 727.85,1243.48 730.26,1242.88 732.67,1242.28 735.09,1241.67 737.5,1241.05" fill="none" stroke="#0000ff" stroke-width="4.7" clip-path="url(#ca)"/>
<polyline points="101.2,1242.19 103.61,1242.79 106.03,1243.38 108.44,1243.97 110.85,1244.56 113.26,1245.14 115.67,1245.71 118.08,1246.28 120.49,1246.85 122.9,1247.41 125.31,1247.97 127.72,1248.52 130.13,1249.07 132.54,1249.61 134.95,1250.15 137.36,1250.68 139.77,1251.21 142.18,1251.74 144.59,1252.26 147,1252.77 149.41,1253.29 151.82,1253.79 154.23,1254.3 156.64,1254.79 159.05,1255.29 161.46,1255.77 163.87,1256.26 166.28,1256.74 168.69,1257.21 171.1,1257.68 173.51,1258.15 175.92,1258.61 178.33,1259.07 180.74,1259.52 183.15,1259.97 185.56,1260.41 187.97,1260.85 190.38,1261.28 192.79,1261.71 195.2,1262.14 197.61,1262.56 200.02,1262.98 202.43,1263.39 204.84,1263.79 207.25,1264.2 209.66,1264.59 212.07,1264.99 214.48,1265.38 216.89,1265.76 219.3,1266.14 221.71,1266.52 224.12,1266.89 226.53,1267.25 228.94,1267.61 231.36,1267.97 233.77,1268.32 236.18,1268.67 238.59,1269.01 241,1269.35 243.41,1269.69 245.82,1270.02 248.23,1270.34 250.64,1270.66 253.05,1270.98 255.46,1271.29 257.87,1271.6 260.28,1271.9 262.69,1272.2 265.1,1272.49 267.51,1272.78 269.92,1273.06 272.33,1273.34 274.74,1273.62 277.15,1273.89 279.56,1274.15 281.97,1274.41 284.38,1274.67 286.79,1274.92 289.2,1275.17 291.61,1275.41 294.02,1275.65 296.43,1275.89 298.84,1276.12 301.25,1276.34 303.66,1276.56 306.07,1276.78 308.48,1276.99 310.89,1277.2 313.3,1277.4 315.71,1277.6 318.12,1277.79 320.53,1277.98 322.94,1278.16 325.35,1278.34 327.76,1278.52 330.17,1278.69 332.58,1278.85 334.99,1279.02 337.4,1279.17 339.81,1279.32 342.22,1279.47 344.63,1279.62 347.04,1279.75 349.45,1279.89 351.86,1280.02 354.27,1280.14 356.69,1280.26 359.1,1280.38 361.51,1280.49 363.92,1280.6 366.33,1280.7 368.74,1280.8 371.15,1280.89 373.56,1280.98 375.97,1281.06 378.38,1281.14 380.79,1281.22 383.2,1281.29 385.61,1281.35 388.02,1281.42 390.43,1281.47 392.84,1281.52 395.25,1281.57 397.66,1281.62 400.07,1281.65 402.48,1281.69 404.89,1281.72 407.3,1281.74 409.71,1281.76 412.12,1281.78 414.53,1281.79 416.94,1281.8 419.35,1281.8 421.76,1281.8 424.17,1281.79 426.58,1281.78 428.99,1281.76 431.4,1281.74 433.81,1281.72 436.22,1281.69 438.63,1281.65 441.04,1281.62 443.45,1281.57 445.86,1281.52 448.27,1281.47 450.68,1281.42 453.09,1281.35 455.5,1281.29 457.91,1281.22 460.32,1281.14 462.73,1281.06 465.14,1280.98 467.55,1280.89 469.96,1280.8 472.37,1280.7 474.78,1280.6 477.19,1280.49 479.6,1280.38 482.01,1280.26 484.43,1280.14 486.84,1280.02 489.25,1279.89 491.66,1279.75 494.07,1279.62 496.48,1279.47 498.89,1279.32 501.3,1279.17 503.71,1279.02 506.12,1278.85 508.53,1278.69 510.94,1278.52 513.35,1278.34 515.76,1278.16 518.17,1277.98 520.58,1277.79 522.99,1277.6 525.4,1277.4 527.81,1277.2 530.22,1276.99 532.63,1276.78 535.04,1276.56 537.45,1276.34 539.86,1276.12 542.27,1275.89 544.68,1275.65 547.09,1275.41 549.5,1275.17 551.91,1274.92 554.32,1274.67 556.73,1274.41 559.14,1274.15 561.55,1273.89 563.96,1273.62 566.37,1273.34 568.78,1273.06 571.19,1272.78 573.6,1272.49 576.01,1272.2 578.42,1271.9 580.83,1271.6 583.24,1271.29 585.65,1270.98 588.06,1270.66 590.47,1270.34 592.88,1270.02 595.29,1269.69 597.7,1269.35 600.11,1269.01 602.52,1268.67 604.93,1268.32 607.34,1267.97 609.76,1267.61 612.17,1267.25 614.58,1266.89 616.99,1266.52 619.4,1266.14 621.81,1265.76 624.22,1265.38 626.63,1264.99 629.04,1264.59 631.45,1264.2 633.86,1263.79 636.27,1263.39 638.68,1262.98 641.09,1262.56 643.5,1262.14 645.91,1261.71 648.32,1261.28 650.73,1260.85 653.14,1260.41 655.55,1259.97 657.96,1259.52 660.37,1259.07 662.78,1258.61 665.19,1258.15 667.6,1257.68 670.01,1257.21 672.42,1256.74 674.83,1256.26 677.24,1255.77 679.65,1255.29 682.06,1254.79 684.47,1254.3 686.88,1253.79 689.29,1253.29 691.7,1252.77 694.11,1252.26 696.52,1251.74 698.93,1251.21 701.34,1250.68 703.75,1250.15 706.16,1249.61 708.57,1249.07 710.98,1248.52 713.39,1247.97 715.8,1247.41 718.21,1246.85 720.62,1246.28 723.03,1245.71 725.44,1245.14 727.85,1244.56 730.26,1243.97 732.67,1243.38 735.09,1242.79 737.5,1242.19" fill="none" stroke="#0000ff" stroke-width="5.1" stroke-dasharray="9.6 5.4" clip-path="url(#ca)"/>
<path d="M130.13 1281.8v-15.6M130.13 15.05v15.6M226.53 1281.8v-15.6M226.53 15.05v15.6M323.44 1281.8v-15.6M323.44 15.05v15.6M420.25 1281.8v-15.6M420.25 15.05v15.6M515.76 1281.8v-15.6M515.76 15.05v15.6M612.17 1281.8v-15.6M612.17 15.05v15.6M708.57 1281.8v-15.6M708.57 15.05v15.6M155.23 1281.8v-8.5M155.23 15.05v8.5M178.33 1281.8v-8.5M178.33 15.05v8.5M203.43 1281.8v-8.5M203.43 15.05v8.5M251.64 1281.8v-8.5M251.64 15.05v8.5M274.74 1281.8v-8.5M274.74 15.05v8.5M298.84 1281.8v-8.5M298.84 15.05v8.5M347.04 1281.8v-8.5M347.04 15.05v8.5M371.65 1281.8v-8.5M371.65 15.05v8.5M395.25 1281.8v-8.5M395.25 15.05v8.5M443.45 1281.8v-8.5M443.45 15.05v8.5M467.55 1281.8v-8.5M467.55 15.05v8.5M491.66 1281.8v-8.5M491.66 15.05v8.5M539.86 1281.8v-8.5M539.86 15.05v8.5M563.96 1281.8v-8.5M563.96 15.05v8.5M587.06 1281.8v-8.5M587.06 15.05v8.5M635.27 1281.8v-8.5M635.27 15.05v8.5M660.37 1281.8v-8.5M660.37 15.05v8.5M683.47 1281.8v-8.5M683.47 15.05v8.5" stroke="#000" stroke-width="1.5" fill="none"/>
<path d="M106.7 1028.45h15.6M732 1028.45h-15.6M106.7 775.1h15.6M732 775.1h-15.6M106.7 521.75h15.6M732 521.75h-15.6M106.7 268.4h15.6M732 268.4h-15.6M106.7 1218.46h9.2M732 1218.46h-9.2M106.7 1155.12h9.2M732 1155.12h-9.2M106.7 1091.79h9.2M732 1091.79h-9.2M106.7 965.11h9.2M732 965.11h-9.2M106.7 901.77h9.2M732 901.77h-9.2M106.7 838.44h9.2M732 838.44h-9.2M106.7 711.76h9.2M732 711.76h-9.2M106.7 648.42h9.2M732 648.42h-9.2M106.7 585.09h9.2M732 585.09h-9.2M106.7 458.41h9.2M732 458.41h-9.2M106.7 395.08h9.2M732 395.08h-9.2M106.7 331.74h9.2M732 331.74h-9.2M106.7 205.06h9.2M732 205.06h-9.2M106.7 141.72h9.2M732 141.72h-9.2M106.7 78.39h9.2M732 78.39h-9.2" stroke="#000" stroke-width="1.5" fill="none"/>
<rect x="106.7" y="15.05" width="625.3" height="1266.75" fill="none" stroke="#000" stroke-width="1.6"/>
<text transform="translate(96.5 1295.7) scale(0.975 1)" font-size="38" text-anchor="end" fill="#404040" stroke="#404040" stroke-width="0.3">0</text>
<text transform="translate(96.5 1042.35) scale(0.975 1)" font-size="38" text-anchor="end" fill="#404040" stroke="#404040" stroke-width="0.3">0.2</text>
<text transform="translate(96.5 789) scale(0.975 1)" font-size="38" text-anchor="end" fill="#404040" stroke="#404040" stroke-width="0.3">0.4</text>
<text transform="translate(96.5 535.65) scale(0.975 1)" font-size="38" text-anchor="end" fill="#404040" stroke="#404040" stroke-width="0.3">0.6</text>
<text transform="translate(96.5 282.3) scale(0.975 1)" font-size="38" text-anchor="end" fill="#404040" stroke="#404040" stroke-width="0.3">0.8</text>
<text transform="translate(78.21 28.95) scale(0.6548 1)" font-size="38" fill="#404040" stroke="#404040" stroke-width="0.3">1</text>
<text transform="translate(130.63 1330.8) scale(0.975 1)" font-size="38" text-anchor="middle" fill="#404040" stroke="#404040" stroke-width="0.3">−60</text>
<text transform="translate(227.03 1330.8) scale(0.975 1)" font-size="38" text-anchor="middle" fill="#404040" stroke="#404040" stroke-width="0.3">−40</text>
<text transform="translate(323.44 1330.8) scale(0.975 1)" font-size="38" text-anchor="middle" fill="#404040" stroke="#404040" stroke-width="0.3">−20</text>
<text transform="translate(419.85 1330.8) scale(0.975 1)" font-size="38" text-anchor="middle" fill="#404040" stroke="#404040" stroke-width="0.3">0</text>
<text transform="translate(516.26 1330.8) scale(0.975 1)" font-size="38" text-anchor="middle" fill="#404040" stroke="#404040" stroke-width="0.3">20</text>
<text transform="translate(612.67 1330.8) scale(0.975 1)" font-size="38" text-anchor="middle" fill="#404040" stroke="#404040" stroke-width="0.3">40</text>
<text transform="translate(709.07 1330.8) scale(0.975 1)" font-size="38" text-anchor="middle" fill="#404040" stroke="#404040" stroke-width="0.3">60</text>
<text transform="translate(274.47 1378.7) scale(1.0427 1)" font-size="37.5" fill="#000" stroke="#000" stroke-width="0.35">Magnetic field (T)</text>
<g transform="translate(31.1 814.5) rotate(-90)"><text transform="translate(-3.05 0) scale(1.0156 1)" font-size="37.5" fill="#000" stroke="#000" stroke-width="0.35">PL intensity (arb. u.)</text></g>
<text transform="translate(157.59 71.2) scale(0.8828 1)" font-size="38" fill="#000" stroke="#000" stroke-width="0.35">(a)</text>
<text transform="translate(315.02 82) scale(0.9898 1)" font-size="37.5" fill="#000" stroke="#000" stroke-width="0.35">σ+</text>
<text transform="translate(420.55 82) scale(0.9637 1)" font-size="37.5" fill="#000" stroke="#000" stroke-width="0.35">σ -</text>
<line x1="312.5" y1="111.6" x2="371" y2="111.6" stroke="#ff7f00" stroke-width="4.8" />
<line x1="409" y1="111.6" x2="464.5" y2="111.6" stroke="#ff7f00" stroke-width="4.8" stroke-dasharray="10.4 4.6"/>
<text transform="translate(481.53 126.5) scale(0.9521 1)" font-size="37.5" fill="#000" stroke="#000" stroke-width="0.35">XX</text>
<text transform="translate(529.44 130.8) scale(1.0794 1)" font-size="24.5" fill="#000" stroke="#000" stroke-width="0.35">d</text>
<line x1="312.5" y1="156.6" x2="371" y2="156.6" stroke="#008000" stroke-width="4.8" />
<line x1="409" y1="156.6" x2="464.5" y2="156.6" stroke="#008000" stroke-width="4.8" stroke-dasharray="10.4 4.6"/>
<text transform="translate(481.53 171.7) scale(0.9521 1)" font-size="37.5" fill="#000" stroke="#000" stroke-width="0.35">XX</text>
<line x1="312.5" y1="201.6" x2="371" y2="201.6" stroke="#ff00ff" stroke-width="4.8" />
<line x1="409" y1="201.6" x2="464.5" y2="201.6" stroke="#ff00ff" stroke-width="4.8" stroke-dasharray="10.4 4.6"/>
<text transform="translate(481.53 217) scale(0.9521 1)" font-size="37.5" fill="#000" stroke="#000" stroke-width="0.35">XX</text>
<text transform="translate(529.69 217) scale(1.1259 1)" font-size="37.5" fill="#000" stroke="#000" stroke-width="0.35">'</text>
<text transform="translate(538.74 221.3) scale(1.0794 1)" font-size="24.5" fill="#000" stroke="#000" stroke-width="0.35">d</text>
<line x1="312.5" y1="246.6" x2="371" y2="246.6" stroke="#0000ff" stroke-width="4.8" />
<line x1="409" y1="246.6" x2="464.5" y2="246.6" stroke="#0000ff" stroke-width="4.8" stroke-dasharray="10.4 4.6"/>
<text transform="translate(481.49 262) scale(0.9880 1)" font-size="37.5" fill="#000" stroke="#000" stroke-width="0.35">X</text>
<text transform="translate(506.3 266.3) scale(1.0159 1)" font-size="24.5" fill="#000" stroke="#000" stroke-width="0.35">d</text>
</g>
<g id="panel-b">
<polyline points="871.41,584.54 873.82,584.47 876.23,584.41 878.63,584.34 881.04,584.27 883.45,584.2 885.86,584.14 888.27,584.07 890.68,583.99 893.09,583.92 895.5,583.85 897.91,583.77 900.32,583.7 902.72,583.62 905.13,583.55 907.54,583.47 909.95,583.39 912.36,583.31 914.77,583.23 917.18,583.15 919.59,583.06 922,582.98 924.41,582.89 926.82,582.81 929.22,582.72 931.63,582.63 934.04,582.54 936.45,582.45 938.86,582.36 941.27,582.26 943.68,582.17 946.09,582.07 948.5,581.98 950.91,581.88 953.31,581.78 955.72,581.68 958.13,581.58 960.54,581.47 962.95,581.37 965.36,581.26 967.77,581.16 970.18,581.05 972.59,580.94 975,580.83 977.4,580.72 979.81,580.61 982.22,580.49 984.63,580.38 987.04,580.26 989.45,580.14 991.86,580.03 994.27,579.91 996.68,579.78 999.09,579.66 1001.5,579.54 1003.9,579.41 1006.31,579.29 1008.72,579.16 1011.13,579.03 1013.54,578.9 1015.95,578.77 1018.36,578.64 1020.77,578.5 1023.18,578.37 1025.59,578.23 1027.99,578.09 1030.4,577.95 1032.81,577.81 1035.22,577.67 1037.63,577.53 1040.04,577.39 1042.45,577.24 1044.86,577.1 1047.27,576.95 1049.68,576.8 1052.09,576.65 1054.49,576.5 1056.9,576.35 1059.31,576.19 1061.72,576.04 1064.13,575.88 1066.54,575.73 1068.95,575.57 1071.36,575.41 1073.77,575.25 1076.18,575.09 1078.58,574.93 1080.99,574.76 1083.4,574.6 1085.81,574.43 1088.22,574.27 1090.63,574.1 1093.04,573.93 1095.45,573.76 1097.86,573.59 1100.27,573.42 1102.67,573.25 1105.08,573.08 1107.49,572.9 1109.9,572.73 1112.31,572.55 1114.72,572.38 1117.13,572.2 1119.54,572.02 1121.95,571.84 1124.36,571.66 1126.77,571.48 1129.17,571.3 1131.58,571.12 1133.99,570.94 1136.4,570.75 1138.81,570.57 1141.22,570.39 1143.63,570.2 1146.04,570.02 1148.45,569.83 1150.86,569.65 1153.26,569.46 1155.67,569.27 1158.08,569.09 1160.49,568.9 1162.9,568.71 1165.31,568.52 1167.72,568.33 1170.13,568.15 1172.54,567.96 1174.95,567.77 1177.35,567.58 1179.76,567.39 1182.17,567.2 1184.58,567.01 1186.99,566.82 1189.4,566.63 1191.81,566.44 1194.22,566.25 1196.63,566.06 1199.04,565.87 1201.45,565.68 1203.85,565.49 1206.26,565.3 1208.67,565.12 1211.08,564.93 1213.49,564.74 1215.9,564.55 1218.31,564.36 1220.72,564.17 1223.13,563.99 1225.54,563.8 1227.94,563.61 1230.35,563.43 1232.76,563.24 1235.17,563.06 1237.58,562.87 1239.99,562.69 1242.4,562.51 1244.81,562.32 1247.22,562.14 1249.63,561.96 1252.03,561.78 1254.44,561.6 1256.85,561.42 1259.26,561.24 1261.67,561.06 1264.08,560.89 1266.49,560.71 1268.9,560.53 1271.31,560.36 1273.72,560.19 1276.13,560.01 1278.53,559.84 1280.94,559.67 1283.35,559.5 1285.76,559.33 1288.17,559.16 1290.58,558.99 1292.99,558.83 1295.4,558.66 1297.81,558.5 1300.22,558.33 1302.62,558.17 1305.03,558.01 1307.44,557.85 1309.85,557.69 1312.26,557.53 1314.67,557.38 1317.08,557.22 1319.49,557.07 1321.9,556.91 1324.31,556.76 1326.71,556.61 1329.12,556.46 1331.53,556.31 1333.94,556.17 1336.35,556.02 1338.76,555.87 1341.17,555.73 1343.58,555.59 1345.99,555.45 1348.4,555.31 1350.81,555.17 1353.21,555.03 1355.62,554.89 1358.03,554.76 1360.44,554.62 1362.85,554.49 1365.26,554.36 1367.67,554.23 1370.08,554.1 1372.49,553.97 1374.9,553.85 1377.3,553.72 1379.71,553.6 1382.12,553.48 1384.53,553.36 1386.94,553.24 1389.35,553.12 1391.76,553 1394.17,552.88 1396.58,552.77 1398.99,552.65 1401.4,552.54 1403.8,552.43 1406.21,552.32 1408.62,552.21 1411.03,552.1 1413.44,552 1415.85,551.89 1418.26,551.79 1420.67,551.68 1423.08,551.58 1425.49,551.48 1427.89,551.38 1430.3,551.29 1432.71,551.19 1435.12,551.09 1437.53,551 1439.94,550.91 1442.35,550.81 1444.76,550.72 1447.17,550.63 1449.58,550.54 1451.98,550.46 1454.39,550.37 1456.8,550.28 1459.21,550.2 1461.62,550.12 1464.03,550.03 1466.44,549.95 1468.85,549.87 1471.26,549.79 1473.67,549.71 1476.08,549.64 1478.48,549.56 1480.89,549.49 1483.3,549.41 1485.71,549.34 1488.12,549.27 1490.53,549.2 1492.94,549.13 1495.35,549.06 1497.76,548.99 1500.17,548.92 1502.57,548.85 1504.98,548.79 1507.39,548.72" fill="none" stroke="#0000ff" stroke-width="4.7" clip-path="url(#cb)"/>
<polyline points="871.41,1144.97 873.82,1141.44 876.23,1137.89 878.63,1134.33 881.04,1130.75 883.45,1127.15 885.86,1123.54 888.27,1119.91 890.68,1116.26 893.09,1112.6 895.5,1108.92 897.91,1105.23 900.32,1101.52 902.72,1097.79 905.13,1094.05 907.54,1090.29 909.95,1086.52 912.36,1082.73 914.77,1078.92 917.18,1075.1 919.59,1071.26 922,1067.41 924.41,1063.54 926.82,1059.66 929.22,1055.76 931.63,1051.85 934.04,1047.92 936.45,1043.97 938.86,1040.01 941.27,1036.04 943.68,1032.05 946.09,1028.04 948.5,1024.02 950.91,1019.99 953.31,1015.94 955.72,1011.88 958.13,1007.8 960.54,1003.7 962.95,999.6 965.36,995.48 967.77,991.34 970.18,987.19 972.59,983.02 975,978.85 977.4,974.65 979.81,970.45 982.22,966.23 984.63,962 987.04,957.75 989.45,953.49 991.86,949.22 994.27,944.93 996.68,940.63 999.09,936.32 1001.5,931.99 1003.9,927.65 1006.31,923.3 1008.72,918.94 1011.13,914.56 1013.54,910.18 1015.95,905.78 1018.36,901.36 1020.77,896.94 1023.18,892.5 1025.59,888.06 1027.99,883.6 1030.4,879.13 1032.81,874.65 1035.22,870.15 1037.63,865.65 1040.04,861.13 1042.45,856.61 1044.86,852.07 1047.27,847.53 1049.68,842.97 1052.09,838.4 1054.49,833.83 1056.9,829.24 1059.31,824.65 1061.72,820.04 1064.13,815.42 1066.54,810.8 1068.95,806.17 1071.36,801.52 1073.77,796.87 1076.18,792.21 1078.58,787.55 1080.99,782.87 1083.4,778.18 1085.81,773.49 1088.22,768.79 1090.63,764.08 1093.04,759.37 1095.45,754.65 1097.86,749.92 1100.27,745.18 1102.67,740.43 1105.08,735.68 1107.49,730.93 1109.9,726.16 1112.31,721.39 1114.72,716.62 1117.13,711.84 1119.54,707.05 1121.95,702.26 1124.36,697.46 1126.77,692.66 1129.17,687.85 1131.58,683.04 1133.99,678.22 1136.4,673.4 1138.81,668.58 1141.22,663.75 1143.63,658.92 1146.04,654.08 1148.45,649.24 1150.86,644.4 1153.26,639.55 1155.67,634.7 1158.08,629.85 1160.49,625 1162.9,620.14 1165.31,615.29 1167.72,610.43 1170.13,605.56 1172.54,600.7 1174.95,595.84 1177.35,590.97 1179.76,586.1 1182.17,581.24 1184.58,576.37 1186.99,571.5 1189.4,566.63 1191.81,561.76 1194.22,556.89 1196.63,552.03 1199.04,547.16 1201.45,542.29 1203.85,537.43 1206.26,532.56 1208.67,527.7 1211.08,522.84 1213.49,517.98 1215.9,513.12 1218.31,508.26 1220.72,503.41 1223.13,498.56 1225.54,493.71 1227.94,488.86 1230.35,484.02 1232.76,479.18 1235.17,474.34 1237.58,469.51 1239.99,464.68 1242.4,459.86 1244.81,455.04 1247.22,450.22 1249.63,445.41 1252.03,440.6 1254.44,435.8 1256.85,431 1259.26,426.21 1261.67,421.42 1264.08,416.64 1266.49,411.87 1268.9,407.1 1271.31,402.33 1273.72,397.58 1276.13,392.83 1278.53,388.08 1280.94,383.35 1283.35,378.62 1285.76,373.89 1288.17,369.18 1290.58,364.47 1292.99,359.77 1295.4,355.08 1297.81,350.39 1300.22,345.71 1302.62,341.05 1305.03,336.39 1307.44,331.74 1309.85,327.09 1312.26,322.46 1314.67,317.84 1317.08,313.22 1319.49,308.62 1321.9,304.02 1324.31,299.43 1326.71,294.86 1329.12,290.29 1331.53,285.73 1333.94,281.19 1336.35,276.65 1338.76,272.13 1341.17,267.61 1343.58,263.11 1345.99,258.62 1348.4,254.13 1350.81,249.66 1353.21,245.2 1355.62,240.76 1358.03,236.32 1360.44,231.9 1362.85,227.49 1365.26,223.09 1367.67,218.7 1370.08,214.32 1372.49,209.96 1374.9,205.61 1377.3,201.27 1379.71,196.94 1382.12,192.63 1384.53,188.33 1386.94,184.05 1389.35,179.77 1391.76,175.51 1394.17,171.27 1396.58,167.03 1398.99,162.81 1401.4,158.61 1403.8,154.41 1406.21,150.24 1408.62,146.07 1411.03,141.92 1413.44,137.79 1415.85,133.66 1418.26,129.56 1420.67,125.46 1423.08,121.38 1425.49,117.32 1427.89,113.27 1430.3,109.24 1432.71,105.22 1435.12,101.21 1437.53,97.22 1439.94,93.25 1442.35,89.29 1444.76,85.34 1447.17,81.41 1449.58,77.5 1451.98,73.6 1454.39,69.72 1456.8,65.85 1459.21,62 1461.62,58.16 1464.03,54.34 1466.44,50.53 1468.85,46.74 1471.26,42.97 1473.67,39.21 1476.08,35.47 1478.48,31.74 1480.89,28.03 1483.3,24.34 1485.71,20.66 1488.12,17 1490.53,13.35 1492.94,9.73 1495.35,6.11 1497.76,2.52 1500.17,-1.07 1502.57,-4.63 1504.98,-8.18 1507.39,-11.71" fill="none" stroke="#ff7f00" stroke-width="4.7" clip-path="url(#cb)"/>
<polyline points="871.41,1064.12 873.82,1060.89 876.23,1057.64 878.63,1054.38 881.04,1051.11 883.45,1047.83 885.86,1044.54 888.27,1041.24 890.68,1037.92 893.09,1034.6 895.5,1031.27 897.91,1027.92 900.32,1024.57 902.72,1021.21 905.13,1017.83 907.54,1014.45 909.95,1011.05 912.36,1007.65 914.77,1004.23 917.18,1000.81 919.59,997.37 922,993.93 924.41,990.47 926.82,987.01 929.22,983.53 931.63,980.05 934.04,976.56 936.45,973.05 938.86,969.54 941.27,966.02 943.68,962.48 946.09,958.94 948.5,955.39 950.91,951.83 953.31,948.26 955.72,944.68 958.13,941.1 960.54,937.5 962.95,933.89 965.36,930.28 967.77,926.66 970.18,923.02 972.59,919.38 975,915.73 977.4,912.08 979.81,908.41 982.22,904.73 984.63,901.05 987.04,897.36 989.45,893.66 991.86,889.95 994.27,886.24 996.68,882.51 999.09,878.78 1001.5,875.04 1003.9,871.29 1006.31,867.54 1008.72,863.78 1011.13,860.01 1013.54,856.23 1015.95,852.44 1018.36,848.65 1020.77,844.85 1023.18,841.05 1025.59,837.23 1027.99,833.41 1030.4,829.58 1032.81,825.75 1035.22,821.91 1037.63,818.06 1040.04,814.21 1042.45,810.35 1044.86,806.48 1047.27,802.61 1049.68,798.73 1052.09,794.85 1054.49,790.95 1056.9,787.06 1059.31,783.15 1061.72,779.25 1064.13,775.33 1066.54,771.41 1068.95,767.49 1071.36,763.56 1073.77,759.62 1076.18,755.68 1078.58,751.74 1080.99,747.79 1083.4,743.83 1085.81,739.87 1088.22,735.91 1090.63,731.94 1093.04,727.97 1095.45,723.99 1097.86,720.01 1100.27,716.02 1102.67,712.03 1105.08,708.04 1107.49,704.04 1109.9,700.04 1112.31,696.04 1114.72,692.03 1117.13,688.02 1119.54,684 1121.95,679.98 1124.36,675.96 1126.77,671.94 1129.17,667.91 1131.58,663.88 1133.99,659.85 1136.4,655.81 1138.81,651.78 1141.22,647.74 1143.63,643.7 1146.04,639.65 1148.45,635.61 1150.86,631.56 1153.26,627.51 1155.67,623.46 1158.08,619.41 1160.49,615.35 1162.9,611.3 1165.31,607.24 1167.72,603.18 1170.13,599.12 1172.54,595.06 1174.95,591 1177.35,586.94 1179.76,582.88 1182.17,578.82 1184.58,574.76 1186.99,570.69 1189.4,566.63 1191.81,562.57 1194.22,558.51 1196.63,554.44 1199.04,550.38 1201.45,546.32 1203.85,542.26 1206.26,538.2 1208.67,534.14 1211.08,530.08 1213.49,526.02 1215.9,521.97 1218.31,517.91 1220.72,513.86 1223.13,509.8 1225.54,505.75 1227.94,501.7 1230.35,497.65 1232.76,493.61 1235.17,489.57 1237.58,485.52 1239.99,481.48 1242.4,477.45 1244.81,473.41 1247.22,469.38 1249.63,465.35 1252.03,461.32 1254.44,457.3 1256.85,453.28 1259.26,449.26 1261.67,445.25 1264.08,441.23 1266.49,437.23 1268.9,433.22 1271.31,429.22 1273.72,425.22 1276.13,421.23 1278.53,417.24 1280.94,413.25 1283.35,409.27 1285.76,405.29 1288.17,401.32 1290.58,397.35 1292.99,393.39 1295.4,389.43 1297.81,385.47 1300.22,381.52 1302.62,377.58 1305.03,373.64 1307.44,369.7 1309.85,365.77 1312.26,361.85 1314.67,357.93 1317.08,354.01 1319.49,350.11 1321.9,346.2 1324.31,342.31 1326.71,338.42 1329.12,334.53 1331.53,330.65 1333.94,326.78 1336.35,322.91 1338.76,319.05 1341.17,315.2 1343.58,311.35 1345.99,307.51 1348.4,303.68 1350.81,299.85 1353.21,296.03 1355.62,292.22 1358.03,288.41 1360.44,284.61 1362.85,280.82 1365.26,277.03 1367.67,273.25 1370.08,269.48 1372.49,265.72 1374.9,261.97 1377.3,258.22 1379.71,254.48 1382.12,250.75 1384.53,247.02 1386.94,243.31 1389.35,239.6 1391.76,235.9 1394.17,232.21 1396.58,228.53 1398.99,224.85 1401.4,221.19 1403.8,217.53 1406.21,213.88 1408.62,210.24 1411.03,206.6 1413.44,202.98 1415.85,199.37 1418.26,195.76 1420.67,192.16 1423.08,188.58 1425.49,185 1427.89,181.43 1430.3,177.87 1432.71,174.32 1435.12,170.78 1437.53,167.24 1439.94,163.72 1442.35,160.21 1444.76,156.71 1447.17,153.21 1449.58,149.73 1451.98,146.25 1454.39,142.79 1456.8,139.33 1459.21,135.89 1461.62,132.45 1464.03,129.03 1466.44,125.61 1468.85,122.21 1471.26,118.81 1473.67,115.43 1476.08,112.05 1478.48,108.69 1480.89,105.34 1483.3,101.99 1485.71,98.66 1488.12,95.34 1490.53,92.03 1492.94,88.72 1495.35,85.43 1497.76,82.15 1500.17,78.88 1502.57,75.62 1504.98,72.38 1507.39,69.14" fill="none" stroke="#008000" stroke-width="4.7" clip-path="url(#cb)"/>
<polyline points="871.41,339.04 873.82,340.71 876.23,342.39 878.63,344.07 881.04,345.75 883.45,347.43 885.86,349.11 888.27,350.79 890.68,352.47 893.09,354.15 895.5,355.84 897.91,357.52 900.32,359.21 902.72,360.9 905.13,362.59 907.54,364.28 909.95,365.97 912.36,367.66 914.77,369.35 917.18,371.05 919.59,372.74 922,374.44 924.41,376.13 926.82,377.83 929.22,379.53 931.63,381.23 934.04,382.93 936.45,384.63 938.86,386.33 941.27,388.03 943.68,389.74 946.09,391.44 948.5,393.15 950.91,394.85 953.31,396.56 955.72,398.27 958.13,399.98 960.54,401.69 962.95,403.4 965.36,405.11 967.77,406.82 970.18,408.54 972.59,410.25 975,411.96 977.4,413.68 979.81,415.39 982.22,417.11 984.63,418.83 987.04,420.55 989.45,422.27 991.86,423.99 994.27,425.71 996.68,427.43 999.09,429.15 1001.5,430.87 1003.9,432.59 1006.31,434.32 1008.72,436.04 1011.13,437.77 1013.54,439.49 1015.95,441.22 1018.36,442.95 1020.77,444.67 1023.18,446.4 1025.59,448.13 1027.99,449.86 1030.4,451.59 1032.81,453.32 1035.22,455.05 1037.63,456.78 1040.04,458.52 1042.45,460.25 1044.86,461.98 1047.27,463.72 1049.68,465.45 1052.09,467.19 1054.49,468.92 1056.9,470.66 1059.31,472.39 1061.72,474.13 1064.13,475.87 1066.54,477.61 1068.95,479.34 1071.36,481.08 1073.77,482.82 1076.18,484.56 1078.58,486.3 1080.99,488.04 1083.4,489.78 1085.81,491.52 1088.22,493.26 1090.63,495.01 1093.04,496.75 1095.45,498.49 1097.86,500.23 1100.27,501.98 1102.67,503.72 1105.08,505.46 1107.49,507.21 1109.9,508.95 1112.31,510.7 1114.72,512.44 1117.13,514.19 1119.54,515.93 1121.95,517.68 1124.36,519.43 1126.77,521.17 1129.17,522.92 1131.58,524.66 1133.99,526.41 1136.4,528.16 1138.81,529.91 1141.22,531.65 1143.63,533.4 1146.04,535.15 1148.45,536.9 1150.86,538.65 1153.26,540.39 1155.67,542.14 1158.08,543.89 1160.49,545.64 1162.9,547.39 1165.31,549.14 1167.72,550.89 1170.13,552.64 1172.54,554.39 1174.95,556.13 1177.35,557.88 1179.76,559.63 1182.17,561.38 1184.58,563.13 1186.99,564.88 1189.4,566.63 1191.81,568.38 1194.22,570.13 1196.63,571.88 1199.04,573.63 1201.45,575.38 1203.85,577.13 1206.26,578.88 1208.67,580.62 1211.08,582.37 1213.49,584.12 1215.9,585.87 1218.31,587.62 1220.72,589.37 1223.13,591.12 1225.54,592.87 1227.94,594.62 1230.35,596.36 1232.76,598.11 1235.17,599.86 1237.58,601.61 1239.99,603.35 1242.4,605.1 1244.81,606.85 1247.22,608.6 1249.63,610.34 1252.03,612.09 1254.44,613.84 1256.85,615.58 1259.26,617.33 1261.67,619.07 1264.08,620.82 1266.49,622.56 1268.9,624.31 1271.31,626.05 1273.72,627.8 1276.13,629.54 1278.53,631.28 1280.94,633.03 1283.35,634.77 1285.76,636.51 1288.17,638.26 1290.58,640 1292.99,641.74 1295.4,643.48 1297.81,645.22 1300.22,646.96 1302.62,648.7 1305.03,650.44 1307.44,652.18 1309.85,653.92 1312.26,655.66 1314.67,657.39 1317.08,659.13 1319.49,660.87 1321.9,662.6 1324.31,664.34 1326.71,666.07 1329.12,667.81 1331.53,669.54 1333.94,671.28 1336.35,673.01 1338.76,674.74 1341.17,676.48 1343.58,678.21 1345.99,679.94 1348.4,681.67 1350.81,683.4 1353.21,685.13 1355.62,686.86 1358.03,688.59 1360.44,690.31 1362.85,692.04 1365.26,693.77 1367.67,695.49 1370.08,697.22 1372.49,698.94 1374.9,700.67 1377.3,702.39 1379.71,704.11 1382.12,705.83 1384.53,707.55 1386.94,709.28 1389.35,710.99 1391.76,712.71 1394.17,714.43 1396.58,716.15 1398.99,717.87 1401.4,719.58 1403.8,721.3 1406.21,723.01 1408.62,724.73 1411.03,726.44 1413.44,728.15 1415.85,729.86 1418.26,731.57 1420.67,733.28 1423.08,734.99 1425.49,736.7 1427.89,738.41 1430.3,740.11 1432.71,741.82 1435.12,743.52 1437.53,745.23 1439.94,746.93 1442.35,748.63 1444.76,750.33 1447.17,752.03 1449.58,753.73 1451.98,755.43 1454.39,757.13 1456.8,758.82 1459.21,760.52 1461.62,762.21 1464.03,763.91 1466.44,765.6 1468.85,767.29 1471.26,768.98 1473.67,770.67 1476.08,772.36 1478.48,774.05 1480.89,775.74 1483.3,777.42 1485.71,779.11 1488.12,780.79 1490.53,782.47 1492.94,784.15 1495.35,785.83 1497.76,787.51 1500.17,789.19 1502.57,790.87 1504.98,792.55 1507.39,794.22" fill="none" stroke="#ff00ff" stroke-width="4.7" clip-path="url(#cb)"/>
<line x1="876.9" y1="566.63" x2="1501.9" y2="566.63" stroke="#000" stroke-width="1.45" />
<path d="M900.32 1281.8v-15.6M900.32 16.5v15.6M996.68 1281.8v-15.6M996.68 16.5v15.6M1093.54 1281.8v-15.6M1093.54 16.5v15.6M1190.3 1281.8v-15.6M1190.3 16.5v15.6M1285.76 1281.8v-15.6M1285.76 16.5v15.6M1382.12 1281.8v-15.6M1382.12 16.5v15.6M1478.48 1281.8v-15.6M1478.48 16.5v15.6M925.41 1281.8v-8.5M925.41 16.5v8.5M948.5 1281.8v-8.5M948.5 16.5v8.5M973.59 1281.8v-8.5M973.59 16.5v8.5M1021.77 1281.8v-8.5M1021.77 16.5v8.5M1044.86 1281.8v-8.5M1044.86 16.5v8.5M1068.95 1281.8v-8.5M1068.95 16.5v8.5M1117.13 1281.8v-8.5M1117.13 16.5v8.5M1141.72 1281.8v-8.5M1141.72 16.5v8.5M1165.31 1281.8v-8.5M1165.31 16.5v8.5M1213.49 1281.8v-8.5M1213.49 16.5v8.5M1237.58 1281.8v-8.5M1237.58 16.5v8.5M1261.67 1281.8v-8.5M1261.67 16.5v8.5M1309.85 1281.8v-8.5M1309.85 16.5v8.5M1333.94 1281.8v-8.5M1333.94 16.5v8.5M1357.03 1281.8v-8.5M1357.03 16.5v8.5M1405.21 1281.8v-8.5M1405.21 16.5v8.5M1430.3 1281.8v-8.5M1430.3 16.5v8.5M1453.39 1281.8v-8.5M1453.39 16.5v8.5" stroke="#000" stroke-width="1.5" fill="none"/>
<path d="M876.9 1226.79h15.6M1501.9 1226.79h-15.6M876.9 1006.73h15.6M1501.9 1006.73h-15.6M876.9 786.68h15.6M1501.9 786.68h-15.6M876.9 566.63h15.6M1501.9 566.63h-15.6M876.9 346.58h15.6M1501.9 346.58h-15.6M876.9 126.53h15.6M1501.9 126.53h-15.6M876.9 1171.77h9.2M1501.9 1171.77h-9.2M876.9 1116.76h9.2M1501.9 1116.76h-9.2M876.9 1061.75h9.2M1501.9 1061.75h-9.2M876.9 951.72h9.2M1501.9 951.72h-9.2M876.9 896.71h9.2M1501.9 896.71h-9.2M876.9 841.7h9.2M1501.9 841.7h-9.2M876.9 731.67h9.2M1501.9 731.67h-9.2M876.9 676.66h9.2M1501.9 676.66h-9.2M876.9 621.64h9.2M1501.9 621.64h-9.2M876.9 511.62h9.2M1501.9 511.62h-9.2M876.9 456.6h9.2M1501.9 456.6h-9.2M876.9 401.59h9.2M1501.9 401.59h-9.2M876.9 291.57h9.2M1501.9 291.57h-9.2M876.9 236.55h9.2M1501.9 236.55h-9.2M876.9 181.54h9.2M1501.9 181.54h-9.2M876.9 71.51h9.2M1501.9 71.51h-9.2" stroke="#000" stroke-width="1.5" fill="none"/>
<rect x="876.9" y="16.5" width="625" height="1265.3" fill="none" stroke="#000" stroke-width="1.6"/>
<text transform="translate(866.5 1240.69) scale(0.975 1)" font-size="38" text-anchor="end" fill="#404040" stroke="#404040" stroke-width="0.3">−60</text>
<text transform="translate(866.5 1020.63) scale(0.975 1)" font-size="38" text-anchor="end" fill="#404040" stroke="#404040" stroke-width="0.3">−40</text>
<text transform="translate(866.5 800.58) scale(0.975 1)" font-size="38" text-anchor="end" fill="#404040" stroke="#404040" stroke-width="0.3">−20</text>
<text transform="translate(866.5 580.53) scale(0.975 1)" font-size="38" text-anchor="end" fill="#404040" stroke="#404040" stroke-width="0.3">0</text>
<text transform="translate(866.5 360.48) scale(0.975 1)" font-size="38" text-anchor="end" fill="#404040" stroke="#404040" stroke-width="0.3">20</text>
<text transform="translate(866.5 140.43) scale(0.975 1)" font-size="38" text-anchor="end" fill="#404040" stroke="#404040" stroke-width="0.3">40</text>
<text transform="translate(900.82 1330.8) scale(0.975 1)" font-size="38" text-anchor="middle" fill="#404040" stroke="#404040" stroke-width="0.3">−60</text>
<text transform="translate(997.18 1330.8) scale(0.975 1)" font-size="38" text-anchor="middle" fill="#404040" stroke="#404040" stroke-width="0.3">−40</text>
<text transform="translate(1093.54 1330.8) scale(0.975 1)" font-size="38" text-anchor="middle" fill="#404040" stroke="#404040" stroke-width="0.3">−20</text>
<text transform="translate(1189.9 1330.8) scale(0.975 1)" font-size="38" text-anchor="middle" fill="#404040" stroke="#404040" stroke-width="0.3">0</text>
<text transform="translate(1286.26 1330.8) scale(0.975 1)" font-size="38" text-anchor="middle" fill="#404040" stroke="#404040" stroke-width="0.3">20</text>
<text transform="translate(1382.62 1330.8) scale(0.975 1)" font-size="38" text-anchor="middle" fill="#404040" stroke="#404040" stroke-width="0.3">40</text>
<text transform="translate(1478.98 1330.8) scale(0.975 1)" font-size="38" text-anchor="middle" fill="#404040" stroke="#404040" stroke-width="0.3">60</text>
<text transform="translate(1044.47 1378.7) scale(1.0427 1)" font-size="37.5" fill="#000" stroke="#000" stroke-width="0.35">Magnetic field (T)</text>
<g transform="translate(789.8 844.1) rotate(-90)"><text transform="translate(-0.39 0) scale(1.0519 1)" font-size="37.5" fill="#000" stroke="#000" stroke-width="0.35">Valley polarization</text><text transform="translate(326.91 0) scale(0.8410 1)" font-size="37.5" fill="#000" stroke="#000" stroke-width="0.35">(</text><text transform="translate(337.46 6.4) scale(0.8283 1)" font-size="47" fill="#000" stroke="#000" stroke-width="0.2">°</text><text transform="translate(351.4 6.6) scale(1.1214 1)" font-size="50" fill="#000">/</text><text transform="translate(366.96 0) scale(0.9026 1)" font-size="37.5" fill="#000" stroke="#000" stroke-width="0.35">)</text><text transform="translate(379.86 5) scale(0.9752 1)" font-size="24" fill="#000" stroke="#000" stroke-width="0.35">o</text></g>
<text transform="translate(924.36 73.6) scale(0.9378 1)" font-size="38" fill="#000" stroke="#000" stroke-width="0.35">(b)</text>
</g>
<g id="inset">
<rect x="1163.8" y="786.95" width="291.65" height="366.55" fill="#fff"/>
<polyline points="1158.48,1022.32 1160.91,1022.92 1163.35,1023.52 1165.79,1024.12 1168.23,1024.71 1170.67,1025.31 1173.1,1025.91 1175.54,1026.51 1177.98,1027.1 1180.42,1027.7 1182.85,1028.3 1185.29,1028.9 1187.73,1029.49 1190.17,1030.09 1192.61,1030.69 1195.04,1031.29 1197.48,1031.88 1199.92,1032.48 1202.36,1033.08 1204.8,1033.68 1207.23,1034.27 1209.67,1034.87 1212.11,1035.47 1214.55,1036.07 1216.99,1036.66 1219.42,1037.26 1221.86,1037.86 1224.3,1038.46 1226.74,1039.06 1229.17,1039.65 1231.61,1040.25 1234.05,1040.85 1236.49,1041.45 1238.93,1042.04 1241.36,1042.64 1243.8,1043.24 1246.24,1043.84 1248.68,1044.43 1251.12,1045.03 1253.55,1045.63 1255.99,1046.23 1258.43,1046.82 1260.87,1047.42 1263.31,1048.02 1265.74,1048.62 1268.18,1049.21 1270.62,1049.81 1273.06,1050.41 1275.49,1051.01 1277.93,1051.6 1280.37,1052.2 1282.81,1052.8 1285.25,1053.4 1287.68,1053.99 1290.12,1054.59 1292.56,1055.19 1295,1055.79 1297.44,1056.38 1299.87,1056.98 1302.31,1057.58 1304.75,1058.18 1307.19,1058.77 1309.62,1059.37 1312.06,1059.97 1314.5,1060.57 1316.94,1061.17 1319.38,1061.76 1321.81,1062.36 1324.25,1062.96 1326.69,1063.56 1329.13,1064.15 1331.57,1064.75 1334,1065.35 1336.44,1065.95 1338.88,1066.54 1341.32,1067.14 1343.76,1067.74 1346.19,1068.34 1348.63,1068.93 1351.07,1069.53 1353.51,1070.13 1355.94,1070.73 1358.38,1071.32 1360.82,1071.92 1363.26,1072.52 1365.7,1073.12 1368.13,1073.71 1370.57,1074.31 1373.01,1074.91 1375.45,1075.51 1377.89,1076.1 1380.32,1076.7 1382.76,1077.3 1385.2,1077.9 1387.64,1078.49 1390.08,1079.09 1392.51,1079.69 1394.95,1080.29 1397.39,1080.88 1399.83,1081.48 1402.26,1082.08 1404.7,1082.68 1407.14,1083.28 1409.58,1083.87 1412.02,1084.47 1414.45,1085.07 1416.89,1085.67 1419.33,1086.26 1421.77,1086.86 1424.21,1087.46 1426.64,1088.06 1429.08,1088.65 1431.52,1089.25 1433.96,1089.85 1436.4,1090.45 1438.83,1091.04 1441.27,1091.64 1443.71,1092.24 1446.15,1092.84 1448.58,1093.43 1451.02,1094.03 1453.46,1094.63 1455.9,1095.23 1458.34,1095.82 1460.77,1096.42 1463.21,1097.02 1465.65,1097.62" fill="none" stroke="#ff00ff" stroke-width="9.6" clip-path="url(#ci)"/>
<polyline points="1158.48,1026.86 1160.91,1025.19 1163.35,1023.52 1165.79,1021.85 1168.23,1020.18 1170.67,1018.5 1173.1,1016.83 1175.54,1015.16 1177.98,1013.49 1180.42,1011.82 1182.85,1010.15 1185.29,1008.48 1187.73,1006.81 1190.17,1005.13 1192.61,1003.46 1195.04,1001.79 1197.48,1000.12 1199.92,998.45 1202.36,996.78 1204.8,995.11 1207.23,993.43 1209.67,991.76 1212.11,990.09 1214.55,988.42 1216.99,986.75 1219.42,985.08 1221.86,983.41 1224.3,981.74 1226.74,980.06 1229.17,978.39 1231.61,976.72 1234.05,975.05 1236.49,973.38 1238.93,971.71 1241.36,970.04 1243.8,968.37 1246.24,966.69 1248.68,965.02 1251.12,963.35 1253.55,961.68 1255.99,960.01 1258.43,958.34 1260.87,956.67 1263.31,954.99 1265.74,953.32 1268.18,951.65 1270.62,949.98 1273.06,948.31 1275.49,946.64 1277.93,944.97 1280.37,943.3 1282.81,941.62 1285.25,939.95 1287.68,938.28 1290.12,936.61 1292.56,934.94 1295,933.27 1297.44,931.6 1299.87,929.93 1302.31,928.25 1304.75,926.58 1307.19,924.91 1309.62,923.24 1312.06,921.57 1314.5,919.9 1316.94,918.23 1319.38,916.55 1321.81,914.88 1324.25,913.21 1326.69,911.54 1329.13,909.87 1331.57,908.2 1334,906.53 1336.44,904.86 1338.88,903.18 1341.32,901.51 1343.76,899.84 1346.19,898.17 1348.63,896.5 1351.07,894.83 1353.51,893.16 1355.94,891.49 1358.38,889.81 1360.82,888.14 1363.26,886.47 1365.7,884.8 1368.13,883.13 1370.57,881.46 1373.01,879.79 1375.45,878.12 1377.89,876.44 1380.32,874.77 1382.76,873.1 1385.2,871.43 1387.64,869.76 1390.08,868.09 1392.51,866.42 1394.95,864.74 1397.39,863.07 1399.83,861.4 1402.26,859.73 1404.7,858.06 1407.14,856.39 1409.58,854.72 1412.02,853.05 1414.45,851.37 1416.89,849.7 1419.33,848.03 1421.77,846.36 1424.21,844.69 1426.64,843.02 1429.08,841.35 1431.52,839.68 1433.96,838 1436.4,836.33 1438.83,834.66 1441.27,832.99 1443.71,831.32 1446.15,829.65 1448.58,827.98 1451.02,826.3 1453.46,824.63 1455.9,822.96 1458.34,821.29 1460.77,819.62 1463.21,817.95 1465.65,816.28" fill="none" stroke="#ff7f00" stroke-width="9.6" clip-path="url(#ci)"/>
<polyline points="1158.48,1026.31 1160.91,1024.91 1163.35,1023.52 1165.79,1022.12 1168.23,1020.73 1170.67,1019.34 1173.1,1017.94 1175.54,1016.55 1177.98,1015.15 1180.42,1013.76 1182.85,1012.36 1185.29,1010.97 1187.73,1009.57 1190.17,1008.18 1192.61,1006.79 1195.04,1005.39 1197.48,1004 1199.92,1002.6 1202.36,1001.21 1204.8,999.81 1207.23,998.42 1209.67,997.03 1212.11,995.63 1214.55,994.24 1216.99,992.84 1219.42,991.45 1221.86,990.05 1224.3,988.66 1226.74,987.27 1229.17,985.87 1231.61,984.48 1234.05,983.08 1236.49,981.69 1238.93,980.29 1241.36,978.9 1243.8,977.51 1246.24,976.11 1248.68,974.72 1251.12,973.32 1253.55,971.93 1255.99,970.53 1258.43,969.14 1260.87,967.74 1263.31,966.35 1265.74,964.96 1268.18,963.56 1270.62,962.17 1273.06,960.77 1275.49,959.38 1277.93,957.98 1280.37,956.59 1282.81,955.2 1285.25,953.8 1287.68,952.41 1290.12,951.01 1292.56,949.62 1295,948.22 1297.44,946.83 1299.87,945.44 1302.31,944.04 1304.75,942.65 1307.19,941.25 1309.62,939.86 1312.06,938.46 1314.5,937.07 1316.94,935.68 1319.38,934.28 1321.81,932.89 1324.25,931.49 1326.69,930.1 1329.13,928.7 1331.57,927.31 1334,925.91 1336.44,924.52 1338.88,923.13 1341.32,921.73 1343.76,920.34 1346.19,918.94 1348.63,917.55 1351.07,916.15 1353.51,914.76 1355.94,913.37 1358.38,911.97 1360.82,910.58 1363.26,909.18 1365.7,907.79 1368.13,906.39 1370.57,905 1373.01,903.61 1375.45,902.21 1377.89,900.82 1380.32,899.42 1382.76,898.03 1385.2,896.63 1387.64,895.24 1390.08,893.85 1392.51,892.45 1394.95,891.06 1397.39,889.66 1399.83,888.27 1402.26,886.87 1404.7,885.48 1407.14,884.09 1409.58,882.69 1412.02,881.3 1414.45,879.9 1416.89,878.51 1419.33,877.11 1421.77,875.72 1424.21,874.32 1426.64,872.93 1429.08,871.54 1431.52,870.14 1433.96,868.75 1436.4,867.35 1438.83,865.96 1441.27,864.56 1443.71,863.17 1446.15,861.78 1448.58,860.38 1451.02,858.99 1453.46,857.59 1455.9,856.2 1458.34,854.8 1460.77,853.41 1463.21,852.02 1465.65,850.62" fill="none" stroke="#008000" stroke-width="9.6" clip-path="url(#ci)"/>
<polyline points="1158.48,1027.04 1160.91,1025.28 1163.35,1023.52 1165.79,1021.76 1168.23,1020 1170.67,1018.24 1173.1,1016.48 1175.54,1014.72 1177.98,1012.96 1180.42,1011.2 1182.85,1009.44 1185.29,1007.68 1187.73,1005.92 1190.17,1004.16 1192.61,1002.4 1195.04,1000.64 1197.48,998.88 1199.92,997.13 1202.36,995.37 1204.8,993.61 1207.23,991.85 1209.67,990.09 1212.11,988.33 1214.55,986.57 1216.99,984.81 1219.42,983.05 1221.86,981.29 1224.3,979.53 1226.74,977.77 1229.17,976.01 1231.61,974.25 1234.05,972.49 1236.49,970.73 1238.93,968.97 1241.36,967.21 1243.8,965.45 1246.24,963.69 1248.68,961.94 1251.12,960.18 1253.55,958.42 1255.99,956.66 1258.43,954.9 1260.87,953.14 1263.31,951.38 1265.74,949.62 1268.18,947.86 1270.62,946.1 1273.06,944.34 1275.49,942.58 1277.93,940.82 1280.37,939.06 1282.81,937.3 1285.25,935.54 1287.68,933.78 1290.12,932.02 1292.56,930.26 1295,928.5 1297.44,926.74 1299.87,924.99 1302.31,923.23 1304.75,921.47 1307.19,919.71 1309.62,917.95 1312.06,916.19 1314.5,914.43 1316.94,912.67 1319.38,910.91 1321.81,909.15 1324.25,907.39 1326.69,905.63 1329.13,903.87 1331.57,902.11 1334,900.35 1336.44,898.59 1338.88,896.83 1341.32,895.07 1343.76,893.31 1346.19,891.55 1348.63,889.8 1351.07,888.04 1353.51,886.28 1355.94,884.52 1358.38,882.76 1360.82,881 1363.26,879.24 1365.7,877.48 1368.13,875.72 1370.57,873.96 1373.01,872.2 1375.45,870.44 1377.89,868.68 1380.32,866.92 1382.76,865.16 1385.2,863.4 1387.64,861.64 1390.08,859.88 1392.51,858.12 1394.95,856.36 1397.39,854.6 1399.83,852.85 1402.26,851.09 1404.7,849.33 1407.14,847.57 1409.58,845.81 1412.02,844.05 1414.45,842.29 1416.89,840.53 1419.33,838.77 1421.77,837.01 1424.21,835.25 1426.64,833.49 1429.08,831.73 1431.52,829.97 1433.96,828.21 1436.4,826.45 1438.83,824.69 1441.27,822.93 1443.71,821.17 1446.15,819.41 1448.58,817.66 1451.02,815.9 1453.46,814.14 1455.9,812.38 1458.34,810.62 1460.77,808.86 1463.21,807.1 1465.65,805.34" fill="none" stroke="#000" stroke-width="4.6" stroke-dasharray="9.6 5.4" stroke-dashoffset="9.66" clip-path="url(#ci)"/>
<polyline points="1158.48,1025.9 1160.91,1024.71 1163.35,1023.52 1165.79,1022.33 1168.23,1021.14 1170.67,1019.95 1173.1,1018.76 1175.54,1017.57 1177.98,1016.38 1180.42,1015.19 1182.85,1013.99 1185.29,1012.8 1187.73,1011.61 1190.17,1010.42 1192.61,1009.23 1195.04,1008.04 1197.48,1006.85 1199.92,1005.66 1202.36,1004.47 1204.8,1003.28 1207.23,1002.09 1209.67,1000.9 1212.11,999.71 1214.55,998.52 1216.99,997.33 1219.42,996.14 1221.86,994.95 1224.3,993.76 1226.74,992.57 1229.17,991.38 1231.61,990.19 1234.05,989 1236.49,987.81 1238.93,986.62 1241.36,985.43 1243.8,984.24 1246.24,983.04 1248.68,981.85 1251.12,980.66 1253.55,979.47 1255.99,978.28 1258.43,977.09 1260.87,975.9 1263.31,974.71 1265.74,973.52 1268.18,972.33 1270.62,971.14 1273.06,969.95 1275.49,968.76 1277.93,967.57 1280.37,966.38 1282.81,965.19 1285.25,964 1287.68,962.81 1290.12,961.62 1292.56,960.43 1295,959.24 1297.44,958.05 1299.87,956.86 1302.31,955.67 1304.75,954.48 1307.19,953.28 1309.62,952.09 1312.06,950.9 1314.5,949.71 1316.94,948.52 1319.38,947.33 1321.81,946.14 1324.25,944.95 1326.69,943.76 1329.13,942.57 1331.57,941.38 1334,940.19 1336.44,939 1338.88,937.81 1341.32,936.62 1343.76,935.43 1346.19,934.24 1348.63,933.05 1351.07,931.86 1353.51,930.67 1355.94,929.48 1358.38,928.29 1360.82,927.1 1363.26,925.91 1365.7,924.72 1368.13,923.52 1370.57,922.33 1373.01,921.14 1375.45,919.95 1377.89,918.76 1380.32,917.57 1382.76,916.38 1385.2,915.19 1387.64,914 1390.08,912.81 1392.51,911.62 1394.95,910.43 1397.39,909.24 1399.83,908.05 1402.26,906.86 1404.7,905.67 1407.14,904.48 1409.58,903.29 1412.02,902.1 1414.45,900.91 1416.89,899.72 1419.33,898.53 1421.77,897.34 1424.21,896.15 1426.64,894.96 1429.08,893.76 1431.52,892.57 1433.96,891.38 1436.4,890.19 1438.83,889 1441.27,887.81 1443.71,886.62 1446.15,885.43 1448.58,884.24 1451.02,883.05 1453.46,881.86 1455.9,880.67 1458.34,879.48 1460.77,878.29 1463.21,877.1 1465.65,875.91" fill="none" stroke="#000" stroke-width="4.6" stroke-dasharray="9.6 5.4" stroke-dashoffset="10.51" clip-path="url(#ci)"/>
<polyline points="1158.48,1022.32 1160.91,1022.92 1163.35,1023.52 1165.79,1024.12 1168.23,1024.71 1170.67,1025.31 1173.1,1025.91 1175.54,1026.51 1177.98,1027.1 1180.42,1027.7 1182.85,1028.3 1185.29,1028.9 1187.73,1029.49 1190.17,1030.09 1192.61,1030.69 1195.04,1031.29 1197.48,1031.88 1199.92,1032.48 1202.36,1033.08 1204.8,1033.68 1207.23,1034.27 1209.67,1034.87 1212.11,1035.47 1214.55,1036.07 1216.99,1036.66 1219.42,1037.26 1221.86,1037.86 1224.3,1038.46 1226.74,1039.06 1229.17,1039.65 1231.61,1040.25 1234.05,1040.85 1236.49,1041.45 1238.93,1042.04 1241.36,1042.64 1243.8,1043.24 1246.24,1043.84 1248.68,1044.43 1251.12,1045.03 1253.55,1045.63 1255.99,1046.23 1258.43,1046.82 1260.87,1047.42 1263.31,1048.02 1265.74,1048.62 1268.18,1049.21 1270.62,1049.81 1273.06,1050.41 1275.49,1051.01 1277.93,1051.6 1280.37,1052.2 1282.81,1052.8 1285.25,1053.4 1287.68,1053.99 1290.12,1054.59 1292.56,1055.19 1295,1055.79 1297.44,1056.38 1299.87,1056.98 1302.31,1057.58 1304.75,1058.18 1307.19,1058.77 1309.62,1059.37 1312.06,1059.97 1314.5,1060.57 1316.94,1061.17 1319.38,1061.76 1321.81,1062.36 1324.25,1062.96 1326.69,1063.56 1329.13,1064.15 1331.57,1064.75 1334,1065.35 1336.44,1065.95 1338.88,1066.54 1341.32,1067.14 1343.76,1067.74 1346.19,1068.34 1348.63,1068.93 1351.07,1069.53 1353.51,1070.13 1355.94,1070.73 1358.38,1071.32 1360.82,1071.92 1363.26,1072.52 1365.7,1073.12 1368.13,1073.71 1370.57,1074.31 1373.01,1074.91 1375.45,1075.51 1377.89,1076.1 1380.32,1076.7 1382.76,1077.3 1385.2,1077.9 1387.64,1078.49 1390.08,1079.09 1392.51,1079.69 1394.95,1080.29 1397.39,1080.88 1399.83,1081.48 1402.26,1082.08 1404.7,1082.68 1407.14,1083.28 1409.58,1083.87 1412.02,1084.47 1414.45,1085.07 1416.89,1085.67 1419.33,1086.26 1421.77,1086.86 1424.21,1087.46 1426.64,1088.06 1429.08,1088.65 1431.52,1089.25 1433.96,1089.85 1436.4,1090.45 1438.83,1091.04 1441.27,1091.64 1443.71,1092.24 1446.15,1092.84 1448.58,1093.43 1451.02,1094.03 1453.46,1094.63 1455.9,1095.23 1458.34,1095.82 1460.77,1096.42 1463.21,1097.02 1465.65,1097.62" fill="none" stroke="#000" stroke-width="4.6" stroke-dasharray="9.6 5.4" stroke-dashoffset="10.46" clip-path="url(#ci)"/>
<path d="M1260.87 1153.5v-15.6M1260.87 786.95v15.6M1358.38 1153.5v-15.6M1358.38 786.95v15.6M1212.11 1153.5v-8.5M1212.11 786.95v8.5M1309.62 1153.5v-8.5M1309.62 786.95v8.5M1407.14 1153.5v-8.5M1407.14 786.95v8.5" stroke="#000" stroke-width="1.5" fill="none"/>
<path d="M1163.8 1023.52h15.6M1455.45 1023.52h-15.6M1163.8 892.02h15.6M1455.45 892.02h-15.6M1163.8 815.11h15.6M1455.45 815.11h-15.6M1163.8 946.6h9.2M1455.45 946.6h-9.2M1163.8 849.69h9.2M1455.45 849.69h-9.2" stroke="#000" stroke-width="1.5" fill="none"/>
<rect x="1163.8" y="786.95" width="291.65" height="366.55" fill="none" stroke="#000" stroke-width="1.6"/>
<text transform="translate(1135.21 1037.42) scale(0.6548 1)" font-size="38" fill="#404040" stroke="#404040" stroke-width="0.3">1</text>
<text transform="translate(1153.5 905.92) scale(0.975 1)" font-size="38" text-anchor="end" fill="#404040" stroke="#404040" stroke-width="0.3">2</text>
<text transform="translate(1153.5 829.01) scale(0.975 1)" font-size="38" text-anchor="end" fill="#404040" stroke="#404040" stroke-width="0.3">3</text>
<text transform="translate(1163.35 1202) scale(0.975 1)" font-size="38" text-anchor="middle" fill="#404040" stroke="#404040" stroke-width="0.3">0</text>
<text transform="translate(1260.87 1202) scale(0.975 1)" font-size="38" text-anchor="middle" fill="#404040" stroke="#404040" stroke-width="0.3">20</text>
<text transform="translate(1358.38 1202) scale(0.975 1)" font-size="38" text-anchor="middle" fill="#404040" stroke="#404040" stroke-width="0.3">40</text>
<text transform="translate(1455.9 1202) scale(0.975 1)" font-size="38" text-anchor="middle" fill="#404040" stroke="#404040" stroke-width="0.3">60</text>
<text transform="translate(1181.33 1244.4) scale(1.0801 1)" font-size="32" fill="#000" stroke="#000" stroke-width="0.35">Magnetic field (T)</text>
<g transform="translate(1119.9 1136.6) rotate(-90)"><text transform="translate(-3.65 0) scale(1.0818 1)" font-size="37.5" fill="#000" stroke="#000" stroke-width="0.35">Intensity ratio</text><text transform="translate(246.51 0) scale(0.9905 1)" font-size="37.5" fill="#000" stroke="#000" stroke-width="0.35">σ</text><text transform="translate(269.62 -12.5) scale(0.9028 1)" font-size="24" fill="#000" stroke="#000" stroke-width="0.35">+</text><text transform="translate(282.4 6.6) scale(1.1143 1)" font-size="50" fill="#000">/</text><text transform="translate(297.82 0) scale(0.9857 1)" font-size="37.5" fill="#000" stroke="#000" stroke-width="0.35">σ</text><text transform="translate(326.16 -15) scale(0.9833 1)" font-size="24" fill="#000" stroke="#000" stroke-width="0.35">-</text></g>
</g>
</svg>
</body></html>
